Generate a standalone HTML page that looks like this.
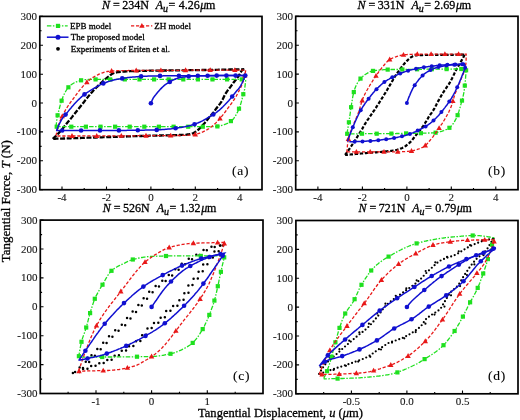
<!DOCTYPE html><html><head><meta charset="utf-8"><style>html,body{margin:0;padding:0;background:#fff;}svg{display:block}.tl{font-family:'Liberation Serif','Times New Roman',serif;font-size:11px;fill:#1a1a1a;stroke:#1a1a1a;stroke-width:0.12px} .t{font-family:'Liberation Serif','Times New Roman',serif;fill:#000} .tw{stroke:#000;stroke-width:0.3px}</style></head><body>
<svg width="520" height="420" viewBox="0 0 520 420">
<rect width="520" height="420" fill="#fff"/>
<path d="M52.7,138.9 L53.9,137.8 L55.1,136.7 L56.3,135.5 L57.5,134.3 L58.7,133.1 L59.9,131.8 L61.1,130.4 L62.3,129 L63.5,127.5 L64.7,126 L65.9,124.5 L67.1,123 L68.3,121.6 L69.6,120.1 L70.8,118.6 L72,117.1 L73.2,115.5 L74.4,114 L75.6,112.5 L76.8,111 L78,109.5 L79.2,108 L80.4,106.5 L81.6,105 L82.8,103.5 L84,102 L85.2,100.4 L86.4,98.9 L87.6,97.4 L88.8,95.9 L90,94.4 L91.2,93 L92.4,91.7 L93.6,90.3 L94.8,89.1 L96.1,87.8 L97.3,86.6 L98.5,85.4 L99.7,84.3 L100.9,83.1 L102.1,82 L103.3,80.9 L104.5,79.9 L105.7,78.9 L106.9,77.9 L108.1,76.9 L109.3,76 L110.5,75 L111.7,74.1 L112.9,73.4 L114.1,73 L115.3,72.6 L116.5,72.4 L117.7,72.1 L118.9,72 L120.1,71.8 L121.4,71.7 L122.6,71.6 L123.8,71.5 L125,71.5 L126.2,71.4 L127.4,71.3 L128.6,71.3 L129.8,71.2 L131,71.2 L132.2,71.1 L133.4,71.1 L134.6,71.1 L135.8,71 L137,71 L138.2,71 L139.4,70.9 L140.6,70.9 L141.8,70.9 L143,70.9 L144.2,70.8 L145.4,70.8 L146.6,70.8 L147.9,70.8 L149.1,70.7 L150.3,70.7 L151.5,70.7 L152.7,70.7 L153.9,70.6 L155.1,70.6 L156.3,70.6 L157.5,70.6 L158.7,70.6 L159.9,70.6 L161.1,70.5 L162.3,70.5 L163.5,70.5 L164.7,70.5 L165.9,70.5 L167.1,70.5 L168.3,70.5 L169.5,70.4 L170.7,70.4 L171.9,70.4 L173.2,70.4 L174.4,70.4 L175.6,70.4 L176.8,70.4 L178,70.3 L179.2,70.3 L180.4,70.3 L181.6,70.3 L182.8,70.3 L184,70.3 L185.2,70.3 L186.4,70.2 L187.6,70.2 L188.8,70.2 L190,70.2 L191.2,70.2 L192.4,70.2 L193.6,70.1 L194.8,70.1 L196,70.1 L197.2,70.1 L198.4,70.1 L199.7,70.1 L200.9,70 L202.1,70 L203.3,70 L204.5,70 L205.7,70 L206.9,69.9 L208.1,69.9 L209.3,69.9 L210.5,69.9 L211.7,69.9 L212.9,69.8 L214.1,69.8 L215.3,69.8 L216.5,69.8 L217.7,69.8 L218.9,69.7 L220.1,69.7 L221.3,69.7 L222.5,69.7 L223.7,69.7 L224.9,69.6 L226.2,69.6 L227.4,69.6 L228.6,69.6 L229.8,69.5 L231,69.5 L232.2,69.5 L233.4,69.5 L234.6,69.4 L235.8,69.4 L237,69.4 L238.2,69.4 L239.4,69.4 L240.6,69.3 L241.8,69.3 L243,69.3 L244.2,69.3" fill="none" stroke="#000" stroke-width="2.3" stroke-dasharray="5 1.6"/>
<path d="M244.2,69.3 L243,69.5 L241.8,70.5 L240.6,72.5 L239.4,74.7 L238.2,76.5 L237,78.1 L235.8,79.7 L234.6,81.2 L233.4,82.8 L232.2,84.5 L231,86.1 L229.8,87.8 L228.6,89.3 L227.4,90.9 L226.2,92.6 L224.9,94.7 L223.7,97.3 L222.5,99.8 L221.3,102 L220.1,103.6 L218.9,105.1 L217.7,106.6 L216.5,108.2 L215.3,109.9 L214.1,111.6 L212.9,113.1 L211.7,114.6 L210.5,115.9 L209.3,117.3 L208.1,118.7 L206.9,120.3 L205.7,121.8 L204.5,123.2 L203.3,124.5 L202.1,125.9 L200.9,127.2 L199.7,128.5 L198.4,129.6 L197.2,130.7 L196,131.5 L194.8,132.3 L193.6,133 L192.4,133.5 L191.2,133.9 L190,134.1 L188.8,134.3 L187.6,134.5 L186.4,134.7 L185.2,134.8 L184,134.8 L182.8,134.9 L181.6,134.9 L180.4,135 L179.2,135 L178,135.1 L176.8,135.1 L175.6,135.2 L174.4,135.2 L173.2,135.2 L171.9,135.3 L170.7,135.3 L169.5,135.3 L168.3,135.3 L167.1,135.4 L165.9,135.4 L164.7,135.4 L163.5,135.4 L162.3,135.4 L161.1,135.5 L159.9,135.5 L158.7,135.5 L157.5,135.5 L156.3,135.6 L155.1,135.6 L153.9,135.6 L152.7,135.6 L151.5,135.7 L150.3,135.7 L149.1,135.7 L147.9,135.8 L146.6,135.8 L145.4,135.8 L144.2,135.9 L143,135.9 L141.8,136 L140.6,136 L139.4,136 L138.2,136.1 L137,136.1 L135.8,136.2 L134.6,136.2 L133.4,136.2 L132.2,136.3 L131,136.3 L129.8,136.4 L128.6,136.4 L127.4,136.4 L126.2,136.5 L125,136.5 L123.8,136.6 L122.6,136.6 L121.4,136.6 L120.1,136.7 L118.9,136.7 L117.7,136.8 L116.5,136.8 L115.3,136.8 L114.1,136.9 L112.9,136.9 L111.7,137 L110.5,137 L109.3,137 L108.1,137.1 L106.9,137.1 L105.7,137.2 L104.5,137.2 L103.3,137.2 L102.1,137.3 L100.9,137.3 L99.7,137.4 L98.5,137.4 L97.3,137.4 L96.1,137.5 L94.8,137.5 L93.6,137.5 L92.4,137.6 L91.2,137.6 L90,137.7 L88.8,137.7 L87.6,137.7 L86.4,137.8 L85.2,137.8 L84,137.9 L82.8,137.9 L81.6,137.9 L80.4,138 L79.2,138 L78,138.1 L76.8,138.1 L75.6,138.1 L74.4,138.2 L73.2,138.2 L72,138.2 L70.8,138.3 L69.6,138.3 L68.3,138.4 L67.1,138.4 L65.9,138.4 L64.7,138.5 L63.5,138.5 L62.3,138.6 L61.1,138.6 L59.9,138.6 L58.7,138.7 L57.5,138.7 L56.3,138.7 L55.1,138.8 L53.9,138.8 L52.7,138.9" fill="none" stroke="#000" stroke-width="2.3" stroke-dasharray="5 1.6"/>
<path d="M56,126.7 L57.2,116.7 L58.4,112.2 L59.6,107.5 L60.8,103 L62,99.4 L63.2,96.3 L64.4,93.7 L65.6,91.5 L66.8,89.5 L68,87.8 L69.1,86.4 L70.3,85.4 L71.5,84.5 L72.7,83.7 L73.9,83 L75.1,82.4 L76.3,81.9 L77.5,81.5 L78.7,81.1 L79.9,80.7 L81.1,80.3 L82.3,80.1 L83.5,79.8 L84.7,79.7 L85.9,79.6 L87.1,79.6 L88.2,79.5 L89.4,79.5 L90.6,79.4 L91.8,79.4 L93,79.4 L94.2,79.4 L95.4,79.4 L96.6,79.4 L97.8,79.4 L99,79.4 L100.2,79.4 L101.4,79.4 L102.6,79.4 L103.8,79.4 L105,79.4 L106.1,79.4 L107.3,79.4 L108.5,79.4 L109.7,79.4 L110.9,79.4 L112.1,79.4 L113.3,79.4 L114.5,79.4 L115.7,79.4 L116.9,79.4 L118.1,79.4 L119.3,79.4 L120.5,79.4 L121.7,79.4 L122.9,79.4 L124,79.4 L125.2,79.4 L126.4,79.4 L127.6,79.4 L128.8,79.4 L130,79.4 L131.2,79.4 L132.4,79.4 L133.6,79.4 L134.8,79.4 L136,79.4 L137.2,79.4 L138.4,79.4 L139.6,79.4 L140.8,79.4 L141.9,79.4 L143.1,79.4 L144.3,79.4 L145.5,79.4 L146.7,79.4 L147.9,79.4 L149.1,79.4 L150.3,79.4 L151.5,79.4 L152.7,79.4 L153.9,79.4 L155.1,79.4 L156.3,79.4 L157.5,79.4 L158.7,79.4 L159.9,79.4 L161,79.4 L162.2,79.4 L163.4,79.4 L164.6,79.4 L165.8,79.4 L167,79.4 L168.2,79.4 L169.4,79.4 L170.6,79.4 L171.8,79.4 L173,79.4 L174.2,79.4 L175.4,79.4 L176.6,79.4 L177.8,79.4 L178.9,79.4 L180.1,79.4 L181.3,79.4 L182.5,79.4 L183.7,79.4 L184.9,79.4 L186.1,79.4 L187.3,79.4 L188.5,79.4 L189.7,79.4 L190.9,79.4 L192.1,79.4 L193.3,79.4 L194.5,79.4 L195.7,79.4 L196.8,79.4 L198,79.4 L199.2,79.4 L200.4,79.4 L201.6,79.4 L202.8,79.4 L204,79.4 L205.2,79.4 L206.4,79.4 L207.6,79.4 L208.8,79.4 L210,79.4 L211.2,79.4 L212.4,79.4 L213.6,79.4 L214.7,79.4 L215.9,79.4 L217.1,79.4 L218.3,79.4 L219.5,79.4 L220.7,79.4 L221.9,79.4 L223.1,79.4 L224.3,79.4 L225.5,79.4 L226.7,79.4 L227.9,79.4 L229.1,79.4 L230.3,79.4 L231.5,79.4 L232.7,79.4 L233.8,79.4 L235,79.4 L236.2,79.4 L237.4,79.4 L238.6,79.4 L239.8,79.4 L241,79.4 L242.2,79.4 L243.4,79.4 L244.6,79.4 L245.8,79.4 L244.6,89.4 L243.4,93.9 L242.2,98.6 L241,103.1 L239.8,106.7 L238.6,109.8 L237.4,112.4 L236.2,114.6 L235,116.6 L233.8,118.3 L232.7,119.7 L231.5,120.7 L230.3,121.6 L229.1,122.4 L227.9,123.1 L226.7,123.7 L225.5,124.2 L224.3,124.6 L223.1,125 L221.9,125.4 L220.7,125.8 L219.5,126 L218.3,126.3 L217.1,126.4 L215.9,126.5 L214.7,126.5 L213.6,126.6 L212.4,126.6 L211.2,126.7 L210,126.7 L208.8,126.7 L207.6,126.7 L206.4,126.7 L205.2,126.7 L204,126.7 L202.8,126.7 L201.6,126.7 L200.4,126.7 L199.2,126.7 L198,126.7 L196.8,126.7 L195.7,126.7 L194.5,126.7 L193.3,126.7 L192.1,126.7 L190.9,126.7 L189.7,126.7 L188.5,126.7 L187.3,126.7 L186.1,126.7 L184.9,126.7 L183.7,126.7 L182.5,126.7 L181.3,126.7 L180.1,126.7 L178.9,126.7 L177.8,126.7 L176.6,126.7 L175.4,126.7 L174.2,126.7 L173,126.7 L171.8,126.7 L170.6,126.7 L169.4,126.7 L168.2,126.7 L167,126.7 L165.8,126.7 L164.6,126.7 L163.4,126.7 L162.2,126.7 L161,126.7 L159.9,126.7 L158.7,126.7 L157.5,126.7 L156.3,126.7 L155.1,126.7 L153.9,126.7 L152.7,126.7 L151.5,126.7 L150.3,126.7 L149.1,126.7 L147.9,126.7 L146.7,126.7 L145.5,126.7 L144.3,126.7 L143.1,126.7 L141.9,126.7 L140.8,126.7 L139.6,126.7 L138.4,126.7 L137.2,126.7 L136,126.7 L134.8,126.7 L133.6,126.7 L132.4,126.7 L131.2,126.7 L130,126.7 L128.8,126.7 L127.6,126.7 L126.4,126.7 L125.2,126.7 L124,126.7 L122.9,126.7 L121.7,126.7 L120.5,126.7 L119.3,126.7 L118.1,126.7 L116.9,126.7 L115.7,126.7 L114.5,126.7 L113.3,126.7 L112.1,126.7 L110.9,126.7 L109.7,126.7 L108.5,126.7 L107.3,126.7 L106.1,126.7 L105,126.7 L103.8,126.7 L102.6,126.7 L101.4,126.7 L100.2,126.7 L99,126.7 L97.8,126.7 L96.6,126.7 L95.4,126.7 L94.2,126.7 L93,126.7 L91.8,126.7 L90.6,126.7 L89.4,126.7 L88.2,126.7 L87.1,126.7 L85.9,126.7 L84.7,126.7 L83.5,126.7 L82.3,126.7 L81.1,126.7 L79.9,126.7 L78.7,126.7 L77.5,126.7 L76.3,126.7 L75.1,126.7 L73.9,126.7 L72.7,126.7 L71.5,126.7 L70.3,126.7 L69.1,126.7 L68,126.7 L66.8,126.7 L65.6,126.7 L64.4,126.7 L63.2,126.7 L62,126.7 L60.8,126.7 L59.6,126.7 L58.4,126.7 L57.2,126.7 L56,126.7" fill="none" stroke="#1ee01e" stroke-width="1.3" stroke-dasharray="4.5 1.5 1.5 1.5"/>
<rect x="55.5" y="113.2" width="4.2" height="4.2" fill="#1ee01e"/>
<rect x="59.5" y="98.6" width="4.2" height="4.2" fill="#1ee01e"/>
<rect x="66.3" y="85.2" width="4.2" height="4.2" fill="#1ee01e"/>
<rect x="79" y="78.2" width="4.2" height="4.2" fill="#1ee01e"/>
<rect x="93.5" y="77.3" width="4.2" height="4.2" fill="#1ee01e"/>
<rect x="108.1" y="77.3" width="4.2" height="4.2" fill="#1ee01e"/>
<rect x="122.7" y="77.3" width="4.2" height="4.2" fill="#1ee01e"/>
<rect x="137.4" y="77.3" width="4.2" height="4.2" fill="#1ee01e"/>
<rect x="152" y="77.3" width="4.2" height="4.2" fill="#1ee01e"/>
<rect x="166.6" y="77.3" width="4.2" height="4.2" fill="#1ee01e"/>
<rect x="181.2" y="77.3" width="4.2" height="4.2" fill="#1ee01e"/>
<rect x="195.8" y="77.3" width="4.2" height="4.2" fill="#1ee01e"/>
<rect x="210.4" y="77.3" width="4.2" height="4.2" fill="#1ee01e"/>
<rect x="225" y="77.3" width="4.2" height="4.2" fill="#1ee01e"/>
<rect x="239.6" y="77.3" width="4.2" height="4.2" fill="#1ee01e"/>
<rect x="241.2" y="92.1" width="4.2" height="4.2" fill="#1ee01e"/>
<rect x="236.9" y="106.6" width="4.2" height="4.2" fill="#1ee01e"/>
<rect x="228.8" y="119" width="4.2" height="4.2" fill="#1ee01e"/>
<rect x="215.3" y="124.3" width="4.2" height="4.2" fill="#1ee01e"/>
<rect x="200.7" y="124.6" width="4.2" height="4.2" fill="#1ee01e"/>
<rect x="186.1" y="124.6" width="4.2" height="4.2" fill="#1ee01e"/>
<rect x="171.5" y="124.6" width="4.2" height="4.2" fill="#1ee01e"/>
<rect x="156.8" y="124.6" width="4.2" height="4.2" fill="#1ee01e"/>
<rect x="142.2" y="124.6" width="4.2" height="4.2" fill="#1ee01e"/>
<rect x="127.6" y="124.6" width="4.2" height="4.2" fill="#1ee01e"/>
<rect x="113" y="124.6" width="4.2" height="4.2" fill="#1ee01e"/>
<rect x="98.4" y="124.6" width="4.2" height="4.2" fill="#1ee01e"/>
<rect x="83.8" y="124.6" width="4.2" height="4.2" fill="#1ee01e"/>
<rect x="69.2" y="124.6" width="4.2" height="4.2" fill="#1ee01e"/>
<rect x="54.6" y="124.6" width="4.2" height="4.2" fill="#1ee01e"/>
<path d="M56,135.7 L57.2,130.2 L58.4,125.6 L59.6,122 L60.8,119.2 L62,116.8 L63.2,114.5 L64.4,112.1 L65.6,109.8 L66.8,107.8 L68,106 L69.1,104.3 L70.3,102.7 L71.5,101.1 L72.7,99.5 L73.9,97.9 L75.1,96.2 L76.3,94.6 L77.5,93 L78.7,91.4 L79.9,89.9 L81.1,88.5 L82.3,87.1 L83.5,85.7 L84.7,84.4 L85.9,83.2 L87.1,82.1 L88.2,81.1 L89.4,80.1 L90.6,79.1 L91.8,78.2 L93,77.4 L94.2,76.7 L95.4,76 L96.6,75.4 L97.8,74.8 L99,74.2 L100.2,73.7 L101.4,73.2 L102.6,72.8 L103.8,72.4 L105,72.1 L106.1,71.7 L107.3,71.5 L108.5,71.3 L109.7,71.2 L110.9,71.1 L112.1,71 L113.3,70.9 L114.5,70.8 L115.7,70.8 L116.9,70.7 L118.1,70.7 L119.3,70.7 L120.5,70.7 L121.7,70.6 L122.9,70.6 L124,70.6 L125.2,70.6 L126.4,70.6 L127.6,70.6 L128.8,70.5 L130,70.5 L131.2,70.5 L132.4,70.5 L133.6,70.5 L134.8,70.5 L136,70.5 L137.2,70.5 L138.4,70.5 L139.6,70.5 L140.8,70.5 L141.9,70.5 L143.1,70.4 L144.3,70.4 L145.5,70.4 L146.7,70.4 L147.9,70.4 L149.1,70.4 L150.3,70.4 L151.5,70.4 L152.7,70.4 L153.9,70.4 L155.1,70.4 L156.3,70.4 L157.5,70.4 L158.7,70.4 L159.9,70.4 L161,70.4 L162.2,70.4 L163.4,70.4 L164.6,70.3 L165.8,70.3 L167,70.3 L168.2,70.3 L169.4,70.3 L170.6,70.3 L171.8,70.3 L173,70.3 L174.2,70.3 L175.4,70.3 L176.6,70.3 L177.8,70.3 L178.9,70.3 L180.1,70.3 L181.3,70.3 L182.5,70.3 L183.7,70.3 L184.9,70.3 L186.1,70.3 L187.3,70.2 L188.5,70.2 L189.7,70.2 L190.9,70.2 L192.1,70.2 L193.3,70.2 L194.5,70.2 L195.7,70.2 L196.8,70.2 L198,70.2 L199.2,70.2 L200.4,70.2 L201.6,70.2 L202.8,70.2 L204,70.2 L205.2,70.2 L206.4,70.2 L207.6,70.2 L208.8,70.2 L210,70.2 L211.2,70.2 L212.4,70.2 L213.6,70.2 L214.7,70.2 L215.9,70.2 L217.1,70.2 L218.3,70.2 L219.5,70.2 L220.7,70.1 L221.9,70.1 L223.1,70.1 L224.3,70.1 L225.5,70.1 L226.7,70.1 L227.9,70.1 L229.1,70.1 L230.3,70.1 L231.5,70.1 L232.7,70.1 L233.8,70.1 L235,70.1 L236.2,70.1 L237.4,70.1 L238.6,70.1 L239.8,70.1 L241,70.1 L242.2,70.1 L243.4,70.1 L244.6,70.1 L245.8,70.1 L244.6,75.9 L243.4,80.5 L242.2,84.1 L241,86.9 L239.8,89.3 L238.6,91.6 L237.4,94 L236.2,96.3 L235,98.3 L233.8,100.1 L232.7,101.8 L231.5,103.4 L230.3,105 L229.1,106.6 L227.9,108.2 L226.7,109.9 L225.5,111.5 L224.3,113.1 L223.1,114.7 L221.9,116.2 L220.7,117.6 L219.5,119 L218.3,120.4 L217.1,121.7 L215.9,122.9 L214.7,124 L213.6,125 L212.4,126 L211.2,127 L210,127.9 L208.8,128.7 L207.6,129.4 L206.4,130.1 L205.2,130.7 L204,131.3 L202.8,131.9 L201.6,132.4 L200.4,132.9 L199.2,133.3 L198,133.7 L196.8,134 L195.7,134.4 L194.5,134.6 L193.3,134.8 L192.1,134.9 L190.9,135 L189.7,135.1 L188.5,135.2 L187.3,135.3 L186.1,135.3 L184.9,135.4 L183.7,135.4 L182.5,135.4 L181.3,135.4 L180.1,135.5 L178.9,135.5 L177.8,135.5 L176.6,135.5 L175.4,135.5 L174.2,135.5 L173,135.6 L171.8,135.6 L170.6,135.6 L169.4,135.6 L168.2,135.6 L167,135.6 L165.8,135.6 L164.6,135.6 L163.4,135.6 L162.2,135.6 L161,135.6 L159.9,135.6 L158.7,135.7 L157.5,135.7 L156.3,135.7 L155.1,135.7 L153.9,135.7 L152.7,135.7 L151.5,135.7 L150.3,135.7 L149.1,135.7 L147.9,135.7 L146.7,135.7 L145.5,135.7 L144.3,135.7 L143.1,135.7 L141.9,135.7 L140.8,135.7 L139.6,135.7 L138.4,135.7 L137.2,135.8 L136,135.8 L134.8,135.8 L133.6,135.8 L132.4,135.8 L131.2,135.8 L130,135.8 L128.8,135.8 L127.6,135.8 L126.4,135.8 L125.2,135.8 L124,135.8 L122.9,135.8 L121.7,135.8 L120.5,135.8 L119.3,135.8 L118.1,135.8 L116.9,135.8 L115.7,135.8 L114.5,135.9 L113.3,135.9 L112.1,135.9 L110.9,135.9 L109.7,135.9 L108.5,135.9 L107.3,135.9 L106.1,135.9 L105,135.9 L103.8,135.9 L102.6,135.9 L101.4,135.9 L100.2,135.9 L99,135.9 L97.8,135.9 L96.6,135.9 L95.4,135.9 L94.2,135.9 L93,135.9 L91.8,135.9 L90.6,135.9 L89.4,135.9 L88.2,135.9 L87.1,135.9 L85.9,135.9 L84.7,135.9 L83.5,135.9 L82.3,135.9 L81.1,136 L79.9,136 L78.7,136 L77.5,136 L76.3,136 L75.1,136 L73.9,136 L72.7,136 L71.5,136 L70.3,136 L69.1,136 L68,136 L66.8,136 L65.6,136 L64.4,136 L63.2,136 L62,136 L60.8,136 L59.6,136 L58.4,136 L57.2,136 L56,136" fill="none" stroke="#e81818" stroke-width="1.3" stroke-dasharray="3.2 1.8"/>
<path d="M244.7,72.6 L247.4,77.5 L242,77.5Z" fill="#e81818"/>
<path d="M220,115.6 L222.7,120.4 L217.3,120.4Z" fill="#e81818"/>
<path d="M195.3,131.5 L198,136.4 L192.6,136.4Z" fill="#e81818"/>
<path d="M170.7,132.7 L173.4,137.5 L168,137.5Z" fill="#e81818"/>
<path d="M146,132.8 L148.7,137.7 L143.3,137.7Z" fill="#e81818"/>
<path d="M121.3,132.9 L124,137.8 L118.6,137.8Z" fill="#e81818"/>
<path d="M96.7,133 L99.4,137.9 L94,137.9Z" fill="#e81818"/>
<path d="M72,133.1 L74.7,137.9 L69.3,137.9Z" fill="#e81818"/>
<path d="M62.2,113.4 L64.9,118.3 L59.5,118.3Z" fill="#e81818"/>
<path d="M86.9,79.3 L89.6,84.2 L84.2,84.2Z" fill="#e81818"/>
<path d="M111.6,68.1 L114.3,72.9 L108.9,72.9Z" fill="#e81818"/>
<path d="M136.2,67.6 L138.9,72.4 L133.5,72.4Z" fill="#e81818"/>
<path d="M160.9,67.4 L163.6,72.3 L158.2,72.3Z" fill="#e81818"/>
<path d="M185.6,67.3 L188.3,72.2 L182.9,72.2Z" fill="#e81818"/>
<path d="M210.2,67.3 L212.9,72.1 L207.5,72.1Z" fill="#e81818"/>
<path d="M234.9,67.2 L237.6,72.1 L232.2,72.1Z" fill="#e81818"/>
<path d="M56.5,130.8 L57.7,127.8 L58.8,125.1 L60,122.6 L61.2,120.3 L62.4,118.4 L63.6,116.9 L64.8,115.5 L66,114.1 L67.2,112.6 L68.4,111.1 L69.6,109.6 L70.8,108.2 L71.9,106.8 L73.1,105.4 L74.3,104.1 L75.5,102.8 L76.7,101.5 L77.9,100.3 L79.1,99.1 L80.3,98 L81.5,96.9 L82.7,95.8 L83.9,94.9 L85,94 L86.2,93.1 L87.4,92.3 L88.6,91.6 L89.8,90.8 L91,90.1 L92.2,89.4 L93.4,88.7 L94.6,88 L95.8,87.3 L96.9,86.6 L98.1,86 L99.3,85.3 L100.5,84.7 L101.7,84.1 L102.9,83.6 L104.1,83.1 L105.3,82.7 L106.5,82.2 L107.7,81.8 L108.9,81.4 L110,81.1 L111.2,80.7 L112.4,80.4 L113.6,80.1 L114.8,79.8 L116,79.6 L117.2,79.3 L118.4,79.1 L119.6,78.9 L120.8,78.7 L122,78.5 L123.1,78.3 L124.3,78.1 L125.5,77.9 L126.7,77.8 L127.9,77.6 L129.1,77.5 L130.3,77.3 L131.5,77.2 L132.7,77.1 L133.9,77 L135,76.9 L136.2,76.8 L137.4,76.7 L138.6,76.6 L139.8,76.5 L141,76.4 L142.2,76.4 L143.4,76.3 L144.6,76.3 L145.8,76.2 L147,76.2 L148.1,76.1 L149.3,76.1 L150.5,76.1 L151.7,76.1 L152.9,76 L154.1,76 L155.3,76 L156.5,76 L157.7,75.9 L158.9,75.9 L160.1,75.9 L161.2,75.9 L162.4,75.9 L163.6,75.8 L164.8,75.8 L166,75.8 L167.2,75.8 L168.4,75.8 L169.6,75.8 L170.8,75.8 L172,75.8 L173.1,75.8 L174.3,75.8 L175.5,75.7 L176.7,75.7 L177.9,75.7 L179.1,75.7 L180.3,75.7 L181.5,75.7 L182.7,75.7 L183.9,75.7 L185.1,75.7 L186.2,75.7 L187.4,75.7 L188.6,75.7 L189.8,75.7 L191,75.7 L192.2,75.7 L193.4,75.7 L194.6,75.7 L195.8,75.7 L197,75.7 L198.2,75.7 L199.3,75.7 L200.5,75.7 L201.7,75.7 L202.9,75.7 L204.1,75.7 L205.3,75.7 L206.5,75.7 L207.7,75.7 L208.9,75.6 L210.1,75.6 L211.3,75.6 L212.4,75.6 L213.6,75.6 L214.8,75.6 L216,75.6 L217.2,75.6 L218.4,75.6 L219.6,75.6 L220.8,75.6 L222,75.6 L223.2,75.6 L224.3,75.6 L225.5,75.6 L226.7,75.6 L227.9,75.6 L229.1,75.6 L230.3,75.6 L231.5,75.6 L232.7,75.6 L233.9,75.6 L235.1,75.6 L236.3,75.6 L237.4,75.6 L238.6,75.6 L239.8,75.6 L241,75.6 L242.2,75.6 L243.4,75.6 L244.6,75.6 L245.8,75.6 L244.1,78.3 L243,81 L241.8,83.5 L240.6,85.8 L239.4,87.7 L238.2,89.2 L237,90.6 L235.8,92 L234.6,93.5 L233.4,95 L232.2,96.5 L231,97.9 L229.9,99.3 L228.7,100.7 L227.5,102 L226.3,103.3 L225.1,104.6 L223.9,105.8 L222.7,107 L221.5,108.1 L220.3,109.2 L219.1,110.3 L217.9,111.2 L216.8,112.1 L215.6,113 L214.4,113.8 L213.2,114.5 L212,115.3 L210.8,116 L209.6,116.7 L208.4,117.4 L207.2,118.1 L206,118.8 L204.9,119.5 L203.7,120.1 L202.5,120.8 L201.3,121.4 L200.1,122 L198.9,122.5 L197.7,123 L196.5,123.4 L195.3,123.9 L194.1,124.3 L192.9,124.7 L191.8,125 L190.6,125.4 L189.4,125.7 L188.2,126 L187,126.3 L185.8,126.5 L184.6,126.8 L183.4,127 L182.2,127.2 L181,127.4 L179.8,127.6 L178.7,127.8 L177.5,128 L176.3,128.2 L175.1,128.3 L173.9,128.5 L172.7,128.6 L171.5,128.8 L170.3,128.9 L169.1,129 L167.9,129.1 L166.8,129.2 L165.6,129.3 L164.4,129.4 L163.2,129.5 L162,129.6 L160.8,129.7 L159.6,129.7 L158.4,129.8 L157.2,129.8 L156,129.9 L154.8,129.9 L153.7,130 L152.5,130 L151.3,130 L150.1,130 L148.9,130.1 L147.7,130.1 L146.5,130.1 L145.3,130.1 L144.1,130.2 L142.9,130.2 L141.7,130.2 L140.6,130.2 L139.4,130.2 L138.2,130.3 L137,130.3 L135.8,130.3 L134.6,130.3 L133.4,130.3 L132.2,130.3 L131,130.3 L129.8,130.3 L128.7,130.3 L127.5,130.3 L126.3,130.4 L125.1,130.4 L123.9,130.4 L122.7,130.4 L121.5,130.4 L120.3,130.4 L119.1,130.4 L117.9,130.4 L116.7,130.4 L115.6,130.4 L114.4,130.4 L113.2,130.4 L112,130.4 L110.8,130.4 L109.6,130.4 L108.4,130.4 L107.2,130.4 L106,130.4 L104.8,130.4 L103.6,130.4 L102.5,130.4 L101.3,130.4 L100.1,130.4 L98.9,130.4 L97.7,130.4 L96.5,130.4 L95.3,130.4 L94.1,130.4 L92.9,130.5 L91.7,130.5 L90.5,130.5 L89.4,130.5 L88.2,130.5 L87,130.5 L85.8,130.5 L84.6,130.5 L83.4,130.5 L82.2,130.5 L81,130.5 L79.8,130.5 L78.6,130.5 L77.5,130.5 L76.3,130.5 L75.1,130.5 L73.9,130.5 L72.7,130.5 L71.5,130.5 L70.3,130.5 L69.1,130.5 L67.9,130.5 L66.7,130.5 L65.5,130.5 L64.4,130.5 L63.2,130.5 L62,130.5 L60.8,130.5 L59.6,130.5 L58.4,130.5 L57.2,130.5 L56,130.5" fill="none" stroke="#1010d0" stroke-width="1.5"/>
<path d="M150.9,103.2 L152.1,100.3 L153.3,97.9 L154.5,96.2 L155.7,94.8 L156.9,93.3 L158.1,91.8 L159.3,90.4 L160.5,89.1 L161.7,87.9 L162.9,86.7 L164.1,85.6 L165.3,84.7 L166.5,83.9 L167.7,83.1 L168.9,82.4 L170.1,81.7 L171.3,81 L172.5,80.4 L173.7,79.8 L174.9,79.3 L176.1,78.8 L177.3,78.4 L178.5,78.1 L179.7,77.8 L180.9,77.5 L182.1,77.3 L183.3,77.1 L184.5,76.9 L185.7,76.7 L186.9,76.6 L188.1,76.4 L189.3,76.3 L190.5,76.2 L191.7,76.1 L192.9,76 L194.1,76 L195.3,75.9 L196.5,75.9 L197.7,75.9 L198.9,75.8 L200.1,75.8 L201.3,75.8 L202.5,75.8 L203.7,75.7 L204.9,75.7 L206.1,75.7 L207.3,75.7 L208.5,75.7 L209.7,75.7 L211,75.7 L212.2,75.7 L213.4,75.7 L214.6,75.7 L215.8,75.7 L217,75.7 L218.2,75.7 L219.4,75.6 L220.6,75.6 L221.8,75.6 L223,75.6 L224.2,75.6 L225.4,75.6 L226.6,75.6 L227.8,75.6 L229,75.6 L230.2,75.6 L231.4,75.6 L232.6,75.6 L233.8,75.6 L235,75.6 L236.2,75.6 L237.4,75.6 L238.6,75.6 L239.8,75.6 L241,75.6 L242.2,75.6 L243.4,75.6 L244.6,75.6 L245.8,75.6" fill="none" stroke="#1010d0" stroke-width="1.5"/>
<circle cx="65.6" cy="114.6" r="2.3" fill="#1010d0"/>
<circle cx="84.5" cy="94.4" r="2.3" fill="#1010d0"/>
<circle cx="103.3" cy="83.4" r="2.3" fill="#1010d0"/>
<circle cx="122.2" cy="78.4" r="2.3" fill="#1010d0"/>
<circle cx="141.1" cy="76.4" r="2.3" fill="#1010d0"/>
<circle cx="160" cy="75.9" r="2.3" fill="#1010d0"/>
<circle cx="178.9" cy="75.7" r="2.3" fill="#1010d0"/>
<circle cx="197.8" cy="75.7" r="2.3" fill="#1010d0"/>
<circle cx="216.7" cy="75.6" r="2.3" fill="#1010d0"/>
<circle cx="235.6" cy="75.6" r="2.3" fill="#1010d0"/>
<circle cx="232.2" cy="96.5" r="2.3" fill="#1010d0"/>
<circle cx="213.3" cy="114.5" r="2.3" fill="#1010d0"/>
<circle cx="194.5" cy="124.2" r="2.3" fill="#1010d0"/>
<circle cx="175.6" cy="128.3" r="2.3" fill="#1010d0"/>
<circle cx="156.7" cy="129.9" r="2.3" fill="#1010d0"/>
<circle cx="137.8" cy="130.3" r="2.3" fill="#1010d0"/>
<circle cx="118.9" cy="130.4" r="2.3" fill="#1010d0"/>
<circle cx="100" cy="130.4" r="2.3" fill="#1010d0"/>
<circle cx="81.1" cy="130.5" r="2.3" fill="#1010d0"/>
<circle cx="62.2" cy="130.5" r="2.3" fill="#1010d0"/>
<circle cx="150.9" cy="103.2" r="2.3" fill="#1010d0"/>
<circle cx="169.8" cy="81.9" r="2.3" fill="#1010d0"/>
<circle cx="188.7" cy="76.4" r="2.3" fill="#1010d0"/>
<circle cx="207.6" cy="75.7" r="2.3" fill="#1010d0"/>
<circle cx="226.4" cy="75.6" r="2.3" fill="#1010d0"/>
<circle cx="245.3" cy="75.6" r="2.3" fill="#1010d0"/>
<path d="M345.1,155 L345.8,154 L346.6,152.9 L347.3,151.9 L348.1,150.8 L348.8,149.7 L349.6,148.7 L350.3,147.6 L351.1,146.5 L351.8,145.3 L352.6,144.2 L353.3,143.1 L354.1,141.9 L354.8,140.8 L355.6,139.6 L356.3,138.4 L357.1,137.2 L357.8,136 L358.6,134.8 L359.3,133.6 L360.1,132.4 L360.8,131.1 L361.6,129.9 L362.4,128.6 L363.1,127.2 L363.9,125.9 L364.6,124.6 L365.4,123.4 L366.1,122.2 L366.9,121 L367.6,119.9 L368.4,118.8 L369.1,117.7 L369.9,116.6 L370.6,115.6 L371.4,114.5 L372.1,113.4 L372.9,112.3 L373.6,111.2 L374.4,110.1 L375.1,108.9 L375.9,107.8 L376.6,106.6 L377.4,105.5 L378.1,104.3 L378.9,103.1 L379.7,101.9 L380.4,100.7 L381.2,99.5 L381.9,98.3 L382.7,97.1 L383.4,95.9 L384.2,94.7 L384.9,93.5 L385.7,92.3 L386.4,91.1 L387.2,89.8 L387.9,88.6 L388.7,87.3 L389.4,86 L390.2,84.7 L390.9,83.4 L391.7,82.1 L392.4,80.8 L393.2,79.5 L393.9,78.2 L394.7,77 L395.4,75.8 L396.2,74.7 L397,73.5 L397.7,72.4 L398.5,71.3 L399.2,70.2 L400,69.2 L400.7,68.2 L401.5,67.2 L402.2,66.2 L403,65.3 L403.7,64.4 L404.5,63.5 L405.2,62.7 L406,61.9 L406.7,61.1 L407.5,60.4 L408.2,59.6 L409,58.9 L409.7,58.2 L410.5,57.6 L411.2,57.1 L412,56.7 L412.7,56.3 L413.5,55.9 L414.3,55.6 L415,55.4 L415.8,55.3 L416.5,55.3 L417.3,55.2 L418,55.2 L418.8,55.2 L419.5,55.1 L420.3,55.1 L421,55.1 L421.8,55.1 L422.5,55.1 L423.3,55 L424,55 L424.8,55 L425.5,55 L426.3,55 L427,55 L427.8,55 L428.5,55 L429.3,55 L430,55 L430.8,54.9 L431.6,54.9 L432.3,54.9 L433.1,54.9 L433.8,54.9 L434.6,54.9 L435.3,54.9 L436.1,54.9 L436.8,54.9 L437.6,54.9 L438.3,54.9 L439.1,54.9 L439.8,54.9 L440.6,54.8 L441.3,54.8 L442.1,54.8 L442.8,54.8 L443.6,54.8 L444.3,54.8 L445.1,54.8 L445.8,54.8 L446.6,54.8 L447.3,54.8 L448.1,54.8 L448.9,54.8 L449.6,54.8 L450.4,54.8 L451.1,54.8 L451.9,54.8 L452.6,54.8 L453.4,54.8 L454.1,54.8 L454.9,54.8 L455.6,54.8 L456.4,54.8 L457.1,54.7 L457.9,54.7 L458.6,54.7 L459.4,54.7 L460.1,54.7 L460.9,54.7 L461.6,54.7 L462.4,54.7 L463.1,54.7 L463.9,54.7 L464.6,54.7" fill="none" stroke="#000" stroke-width="2.2" stroke-dasharray="3.4 1.7"/>
<path d="M464.6,54.7 L463.9,56.2 L463.1,57.7 L462.4,59.1 L461.6,60.4 L460.9,61.7 L460.1,63 L459.4,64.3 L458.6,65.6 L457.9,66.9 L457.1,68.2 L456.4,69.6 L455.6,71 L454.9,72.5 L454.1,74.1 L453.4,75.7 L452.6,77.2 L451.9,78.8 L451.1,80.2 L450.4,81.6 L449.6,82.9 L448.9,84.2 L448.1,85.3 L447.3,86.4 L446.6,87.5 L445.8,88.6 L445.1,89.7 L444.3,90.8 L443.6,91.9 L442.8,93.1 L442.1,94.3 L441.3,95.6 L440.6,96.9 L439.8,98.2 L439.1,99.6 L438.3,100.9 L437.6,102.3 L436.8,103.8 L436.1,105.3 L435.3,106.7 L434.6,108.1 L433.8,109.4 L433.1,110.6 L432.3,111.7 L431.6,112.8 L430.8,113.9 L430,115 L429.3,116.1 L428.5,117.3 L427.8,118.6 L427,119.8 L426.3,121.1 L425.5,122.3 L424.8,123.5 L424,124.7 L423.3,125.8 L422.5,126.9 L421.8,127.9 L421,128.9 L420.3,129.8 L419.5,130.8 L418.8,131.7 L418,132.6 L417.3,133.5 L416.5,134.4 L415.8,135.4 L415,136.3 L414.3,137.3 L413.5,138.3 L412.7,139.3 L412,140.3 L411.2,141.2 L410.5,141.9 L409.7,142.6 L409,143.3 L408.2,144 L407.5,144.6 L406.7,145.2 L406,145.8 L405.2,146.3 L404.5,146.8 L403.7,147.2 L403,147.6 L402.2,148 L401.5,148.3 L400.7,148.6 L400,148.9 L399.2,149.2 L398.5,149.4 L397.7,149.6 L397,149.8 L396.2,150 L395.4,150.2 L394.7,150.3 L393.9,150.4 L393.2,150.5 L392.4,150.7 L391.7,150.8 L390.9,150.9 L390.2,151 L389.4,151 L388.7,151.1 L387.9,151.2 L387.2,151.3 L386.4,151.4 L385.7,151.4 L384.9,151.5 L384.2,151.6 L383.4,151.7 L382.7,151.7 L381.9,151.8 L381.2,151.9 L380.4,152 L379.7,152 L378.9,152.1 L378.1,152.1 L377.4,152.2 L376.6,152.3 L375.9,152.3 L375.1,152.4 L374.4,152.4 L373.6,152.5 L372.9,152.5 L372.1,152.6 L371.4,152.7 L370.6,152.7 L369.9,152.8 L369.1,152.8 L368.4,152.9 L367.6,152.9 L366.9,153 L366.1,153.1 L365.4,153.1 L364.6,153.2 L363.9,153.3 L363.1,153.3 L362.4,153.4 L361.6,153.5 L360.8,153.5 L360.1,153.6 L359.3,153.7 L358.6,153.7 L357.8,153.8 L357.1,153.9 L356.3,153.9 L355.6,154 L354.8,154.1 L354.1,154.1 L353.3,154.2 L352.6,154.3 L351.8,154.4 L351.1,154.4 L350.3,154.5 L349.6,154.6 L348.8,154.6 L348.1,154.7 L347.3,154.8 L346.6,154.9 L345.8,154.9 L345.1,155" fill="none" stroke="#000" stroke-width="2.2" stroke-dasharray="3.4 1.7"/>
<path d="M346.8,133.8 L347.6,130 L348.3,125.8 L349.1,121.3 L349.8,116.2 L350.6,110.6 L351.3,105.5 L352.1,100.9 L352.8,96.6 L353.6,92.9 L354.3,90.3 L355.1,88.1 L355.8,86.3 L356.6,84.7 L357.3,83.2 L358.1,82 L358.8,80.8 L359.6,79.8 L360.3,78.9 L361.1,78 L361.8,77.3 L362.6,76.6 L363.3,76 L364.1,75.4 L364.8,74.8 L365.6,74.3 L366.3,73.8 L367.1,73.4 L367.9,72.9 L368.6,72.5 L369.4,72.1 L370.1,71.7 L370.9,71.4 L371.6,71.2 L372.4,71 L373.1,70.8 L373.9,70.7 L374.6,70.6 L375.4,70.5 L376.1,70.4 L376.9,70.3 L377.6,70.2 L378.4,70.1 L379.1,70.1 L379.9,70 L380.6,69.9 L381.4,69.9 L382.1,69.8 L382.9,69.8 L383.6,69.7 L384.4,69.7 L385.1,69.6 L385.9,69.6 L386.6,69.6 L387.4,69.6 L388.1,69.6 L388.9,69.6 L389.6,69.6 L390.4,69.6 L391.1,69.5 L391.9,69.5 L392.6,69.5 L393.4,69.5 L394.1,69.5 L394.9,69.5 L395.6,69.5 L396.4,69.5 L397.1,69.5 L397.9,69.5 L398.6,69.5 L399.4,69.5 L400.1,69.5 L400.9,69.5 L401.6,69.5 L402.4,69.5 L403.1,69.5 L403.9,69.5 L404.6,69.5 L405.4,69.4 L406.1,69.4 L406.9,69.4 L407.6,69.4 L408.4,69.4 L409.1,69.4 L409.9,69.4 L410.6,69.4 L411.4,69.4 L412.1,69.4 L412.9,69.4 L413.6,69.3 L414.4,69.3 L415.2,69.3 L415.9,69.3 L416.7,69.3 L417.4,69.3 L418.2,69.3 L418.9,69.3 L419.7,69.3 L420.4,69.3 L421.2,69.3 L421.9,69.3 L422.7,69.2 L423.4,69.2 L424.2,69.2 L424.9,69.2 L425.7,69.2 L426.4,69.2 L427.2,69.2 L427.9,69.2 L428.7,69.2 L429.4,69.2 L430.2,69.2 L430.9,69.2 L431.7,69.2 L432.4,69.2 L433.2,69.2 L433.9,69.2 L434.7,69.2 L435.4,69.1 L436.2,69.1 L436.9,69.1 L437.7,69.1 L438.4,69.1 L439.2,69.1 L439.9,69.1 L440.7,69.1 L441.4,69.1 L442.2,69.1 L442.9,69.1 L443.7,69.1 L444.4,69.1 L445.2,69.1 L445.9,69.1 L446.7,69.1 L447.4,69.1 L448.2,69.1 L448.9,69.1 L449.7,69.1 L450.4,69.1 L451.2,69.1 L451.9,69.1 L452.7,69.1 L453.4,69 L454.2,69 L454.9,69 L455.7,69 L456.4,69 L457.2,69 L457.9,69 L458.7,69 L459.4,69 L460.2,69 L460.9,69 L461.7,69 L462.5,69 L463.2,69 L464,69 L464.7,69 L465.5,69 L466.2,69 L465.5,79 L464.7,87 L464,92 L463.2,95.8 L462.5,98.9 L461.7,101.6 L460.9,104.3 L460.2,107 L459.4,109.6 L458.7,112 L457.9,114.2 L457.2,116.2 L456.4,117.9 L455.7,119.4 L454.9,120.9 L454.2,122.2 L453.4,123.3 L452.7,124.3 L451.9,125.2 L451.2,126.1 L450.4,126.9 L449.7,127.5 L448.9,128.1 L448.2,128.6 L447.4,129 L446.7,129.4 L445.9,129.7 L445.2,130 L444.4,130.3 L443.7,130.6 L442.9,130.8 L442.2,131.1 L441.4,131.3 L440.7,131.5 L439.9,131.7 L439.2,131.9 L438.4,132.1 L437.7,132.3 L436.9,132.5 L436.2,132.6 L435.4,132.7 L434.7,132.8 L433.9,132.8 L433.2,132.9 L432.4,132.9 L431.7,132.9 L430.9,133 L430.2,133 L429.4,133 L428.7,133 L427.9,133.1 L427.2,133.1 L426.4,133.1 L425.7,133.1 L424.9,133.1 L424.2,133.1 L423.4,133.2 L422.7,133.2 L421.9,133.2 L421.2,133.2 L420.4,133.2 L419.7,133.2 L418.9,133.2 L418.2,133.3 L417.4,133.3 L416.7,133.3 L415.9,133.3 L415.2,133.3 L414.4,133.3 L413.6,133.3 L412.9,133.3 L412.1,133.4 L411.4,133.4 L410.6,133.4 L409.9,133.4 L409.1,133.4 L408.4,133.4 L407.6,133.4 L406.9,133.4 L406.1,133.4 L405.4,133.4 L404.6,133.5 L403.9,133.5 L403.1,133.5 L402.4,133.5 L401.6,133.5 L400.9,133.5 L400.1,133.5 L399.4,133.5 L398.6,133.5 L397.9,133.5 L397.1,133.5 L396.4,133.5 L395.6,133.6 L394.9,133.6 L394.1,133.6 L393.4,133.6 L392.6,133.6 L391.9,133.6 L391.1,133.6 L390.4,133.6 L389.6,133.6 L388.9,133.6 L388.1,133.6 L387.4,133.6 L386.6,133.6 L385.9,133.6 L385.1,133.6 L384.4,133.6 L383.6,133.6 L382.9,133.6 L382.1,133.6 L381.4,133.7 L380.6,133.7 L379.9,133.7 L379.1,133.7 L378.4,133.7 L377.6,133.7 L376.9,133.7 L376.1,133.7 L375.4,133.7 L374.6,133.7 L373.9,133.7 L373.1,133.7 L372.4,133.7 L371.6,133.7 L370.9,133.7 L370.1,133.7 L369.4,133.7 L368.6,133.7 L367.9,133.7 L367.1,133.7 L366.3,133.7 L365.6,133.7 L364.8,133.7 L364.1,133.7 L363.3,133.7 L362.6,133.7 L361.8,133.7 L361.1,133.8 L360.3,133.8 L359.6,133.8 L358.8,133.8 L358.1,133.8 L357.3,133.8 L356.6,133.8 L355.8,133.8 L355.1,133.8 L354.3,133.8 L353.6,133.8 L352.8,133.8 L352.1,133.8 L351.3,133.8 L350.6,133.8 L349.8,133.8 L349.1,133.8 L348.3,133.8 L347.6,133.8 L346.8,133.8" fill="none" stroke="#1ee01e" stroke-width="1.3" stroke-dasharray="4.5 1.5 1.5 1.5"/>
<rect x="346.8" y="120.2" width="4.2" height="4.2" fill="#1ee01e"/>
<rect x="349" y="105.1" width="4.2" height="4.2" fill="#1ee01e"/>
<rect x="351.7" y="90" width="4.2" height="4.2" fill="#1ee01e"/>
<rect x="358.4" y="76.5" width="4.2" height="4.2" fill="#1ee01e"/>
<rect x="370.9" y="68.8" width="4.2" height="4.2" fill="#1ee01e"/>
<rect x="385.6" y="67.5" width="4.2" height="4.2" fill="#1ee01e"/>
<rect x="400.3" y="67.4" width="4.2" height="4.2" fill="#1ee01e"/>
<rect x="415" y="67.2" width="4.2" height="4.2" fill="#1ee01e"/>
<rect x="429.7" y="67.1" width="4.2" height="4.2" fill="#1ee01e"/>
<rect x="444.5" y="67" width="4.2" height="4.2" fill="#1ee01e"/>
<rect x="459.2" y="66.9" width="4.2" height="4.2" fill="#1ee01e"/>
<rect x="464" y="68.2" width="4.2" height="4.2" fill="#1ee01e"/>
<rect x="462.7" y="83.5" width="4.2" height="4.2" fill="#1ee01e"/>
<rect x="459.9" y="98.5" width="4.2" height="4.2" fill="#1ee01e"/>
<rect x="455.5" y="113.1" width="4.2" height="4.2" fill="#1ee01e"/>
<rect x="447.3" y="125.7" width="4.2" height="4.2" fill="#1ee01e"/>
<rect x="433.5" y="130.6" width="4.2" height="4.2" fill="#1ee01e"/>
<rect x="418.8" y="131.1" width="4.2" height="4.2" fill="#1ee01e"/>
<rect x="404" y="131.3" width="4.2" height="4.2" fill="#1ee01e"/>
<rect x="389.3" y="131.5" width="4.2" height="4.2" fill="#1ee01e"/>
<rect x="374.6" y="131.6" width="4.2" height="4.2" fill="#1ee01e"/>
<rect x="359.9" y="131.6" width="4.2" height="4.2" fill="#1ee01e"/>
<rect x="345.1" y="131.7" width="4.2" height="4.2" fill="#1ee01e"/>
<path d="M346.8,152.4 L347.6,143.9 L348.3,139.2 L349.1,136.1 L349.8,133.7 L350.6,131.7 L351.3,129.9 L352.1,128.2 L352.8,126.4 L353.6,124.4 L354.3,122.5 L355.1,120.8 L355.8,119 L356.6,117.3 L357.3,115.4 L358.1,113.5 L358.8,111.5 L359.6,109.2 L360.3,106.6 L361.1,103.9 L361.8,101.4 L362.6,99.3 L363.3,97.5 L364.1,95.8 L364.8,94.2 L365.6,92.7 L366.3,91.3 L367.1,90 L367.9,88.6 L368.6,87.3 L369.4,86 L370.1,84.8 L370.9,83.6 L371.6,82.4 L372.4,81.3 L373.1,80.1 L373.9,79 L374.6,77.8 L375.4,76.7 L376.1,75.6 L376.9,74.6 L377.6,73.5 L378.4,72.4 L379.1,71.4 L379.9,70.4 L380.6,69.4 L381.4,68.4 L382.1,67.5 L382.9,66.6 L383.6,65.7 L384.4,64.8 L385.1,63.9 L385.9,63 L386.6,62.2 L387.4,61.4 L388.1,60.7 L388.9,60.1 L389.6,59.6 L390.4,59.1 L391.1,58.7 L391.9,58.4 L392.6,58 L393.4,57.7 L394.1,57.4 L394.9,57.1 L395.6,56.9 L396.4,56.6 L397.1,56.4 L397.9,56.2 L398.6,55.9 L399.4,55.7 L400.1,55.5 L400.9,55.3 L401.6,55.2 L402.4,55 L403.1,54.9 L403.9,54.8 L404.6,54.8 L405.4,54.7 L406.1,54.6 L406.9,54.6 L407.6,54.5 L408.4,54.5 L409.1,54.4 L409.9,54.4 L410.6,54.3 L411.4,54.3 L412.1,54.3 L412.9,54.2 L413.6,54.2 L414.4,54.2 L415.2,54.2 L415.9,54.2 L416.7,54.2 L417.4,54.2 L418.2,54.2 L418.9,54.2 L419.7,54.2 L420.4,54.2 L421.2,54.2 L421.9,54.2 L422.7,54.2 L423.4,54.2 L424.2,54.2 L424.9,54.2 L425.7,54.2 L426.4,54.2 L427.2,54.2 L427.9,54.2 L428.7,54.2 L429.4,54.2 L430.2,54.2 L430.9,54.2 L431.7,54.2 L432.4,54.2 L433.2,54.2 L433.9,54.2 L434.7,54.2 L435.4,54.2 L436.2,54.2 L436.9,54.2 L437.7,54.2 L438.4,54.2 L439.2,54.2 L439.9,54.2 L440.7,54.2 L441.4,54.2 L442.2,54.2 L442.9,54.2 L443.7,54.2 L444.4,54.2 L445.2,54.2 L445.9,54.2 L446.7,54.2 L447.4,54.2 L448.2,54.2 L448.9,54.2 L449.7,54.2 L450.4,54.2 L451.2,54.2 L451.9,54.2 L452.7,54.2 L453.4,54.2 L454.2,54.2 L454.9,54.2 L455.7,54.2 L456.4,54.2 L457.2,54.2 L457.9,54.2 L458.7,54.2 L459.4,54.2 L460.2,54.2 L460.9,54.2 L461.7,54.2 L462.5,54.2 L463.2,54.2 L464,54.2 L464.7,54.2 L465.5,54.2 L466.2,54.2 L466.1,62.1 L465.4,66.8 L464.6,69.9 L463.9,72.3 L463.1,74.3 L462.4,76.1 L461.6,77.8 L460.9,79.6 L460.1,81.6 L459.4,83.5 L458.6,85.2 L457.9,87 L457.1,88.7 L456.4,90.6 L455.6,92.5 L454.9,94.5 L454.1,96.8 L453.4,99.4 L452.6,102.1 L451.9,104.6 L451.1,106.7 L450.4,108.5 L449.6,110.2 L448.9,111.8 L448.1,113.3 L447.4,114.7 L446.6,116 L445.8,117.4 L445.1,118.7 L444.3,120 L443.6,121.2 L442.8,122.4 L442.1,123.6 L441.3,124.7 L440.6,125.9 L439.8,127 L439.1,128.2 L438.3,129.3 L437.6,130.4 L436.8,131.4 L436.1,132.5 L435.3,133.6 L434.6,134.6 L433.8,135.6 L433.1,136.6 L432.3,137.6 L431.6,138.5 L430.8,139.4 L430.1,140.3 L429.3,141.2 L428.6,142.1 L427.8,143 L427.1,143.8 L426.3,144.6 L425.6,145.3 L424.8,145.9 L424.1,146.4 L423.3,146.9 L422.6,147.3 L421.8,147.6 L421.1,148 L420.3,148.3 L419.6,148.6 L418.8,148.9 L418.1,149.1 L417.3,149.4 L416.6,149.6 L415.8,149.8 L415.1,150.1 L414.3,150.3 L413.6,150.5 L412.8,150.7 L412.1,150.8 L411.3,151 L410.6,151.1 L409.8,151.2 L409.1,151.2 L408.3,151.3 L407.6,151.4 L406.8,151.4 L406.1,151.5 L405.3,151.5 L404.6,151.6 L403.8,151.6 L403.1,151.7 L402.3,151.7 L401.6,151.7 L400.8,151.8 L400.1,151.8 L399.3,151.8 L398.5,151.8 L397.8,151.8 L397,151.8 L396.3,151.8 L395.5,151.8 L394.8,151.8 L394,151.8 L393.3,151.8 L392.5,151.8 L391.8,151.8 L391,151.8 L390.3,151.8 L389.5,151.8 L388.8,151.8 L388,151.8 L387.3,151.8 L386.5,151.8 L385.8,151.8 L385,151.8 L384.3,151.8 L383.5,151.8 L382.8,151.8 L382,151.8 L381.3,151.8 L380.5,151.8 L379.8,151.8 L379,151.8 L378.3,151.8 L377.5,151.8 L376.8,151.8 L376,151.8 L375.3,151.8 L374.5,151.8 L373.8,151.8 L373,151.8 L372.3,151.8 L371.5,151.8 L370.8,151.8 L370,151.8 L369.3,151.8 L368.5,151.8 L367.8,151.8 L367,151.8 L366.3,151.8 L365.5,151.8 L364.8,151.8 L364,151.8 L363.3,151.8 L362.5,151.8 L361.8,151.8 L361,151.8 L360.3,151.8 L359.5,151.8 L358.8,151.8 L358,151.8 L357.3,151.8 L356.5,151.8 L355.8,151.8 L355,151.8 L354.3,151.8 L353.5,151.8 L352.8,151.8 L352,151.8 L351.2,151.8 L350.5,151.8 L349.7,151.8 L349,151.8 L348.2,151.8 L347.5,151.8" fill="none" stroke="#e81818" stroke-width="1.3" stroke-dasharray="3.2 1.8"/>
<path d="M452.9,98.2 L455.6,103.1 L450.2,103.1Z" fill="#e81818"/>
<path d="M439.1,125.3 L441.8,130.1 L436.4,130.1Z" fill="#e81818"/>
<path d="M425.3,142.6 L428,147.5 L422.6,147.5Z" fill="#e81818"/>
<path d="M411.5,148 L414.2,152.9 L408.8,152.9Z" fill="#e81818"/>
<path d="M397.7,148.9 L400.4,153.8 L395,153.8Z" fill="#e81818"/>
<path d="M384,148.9 L386.7,153.8 L381.3,153.8Z" fill="#e81818"/>
<path d="M370.2,148.9 L372.9,153.8 L367.5,153.8Z" fill="#e81818"/>
<path d="M356.4,148.9 L359.1,153.8 L353.7,153.8Z" fill="#e81818"/>
<path d="M348.4,136.1 L351.1,140.9 L345.7,140.9Z" fill="#e81818"/>
<path d="M362.2,97.5 L364.9,102.4 L359.5,102.4Z" fill="#e81818"/>
<path d="M376,72.9 L378.7,77.8 L373.3,77.8Z" fill="#e81818"/>
<path d="M389.7,56.6 L392.4,61.5 L387,61.5Z" fill="#e81818"/>
<path d="M403.5,52 L406.2,56.8 L400.8,56.8Z" fill="#e81818"/>
<path d="M417.3,51.2 L420,56.1 L414.6,56.1Z" fill="#e81818"/>
<path d="M431.1,51.2 L433.8,56.1 L428.4,56.1Z" fill="#e81818"/>
<path d="M444.9,51.2 L447.6,56.1 L442.2,56.1Z" fill="#e81818"/>
<path d="M458.6,51.2 L461.3,56.1 L455.9,56.1Z" fill="#e81818"/>
<path d="M347.5,141.4 L348.2,139.3 L349,137.3 L349.7,135.3 L350.4,133.3 L351.2,131.4 L351.9,129.5 L352.6,127.7 L353.4,125.9 L354.1,124.2 L354.8,122.5 L355.6,120.8 L356.3,119.1 L357.1,117.5 L357.8,116 L358.5,114.5 L359.3,113 L360,111.6 L360.7,110.3 L361.5,109 L362.2,107.8 L362.9,106.7 L363.7,105.5 L364.4,104.5 L365.1,103.4 L365.9,102.4 L366.6,101.3 L367.4,100.3 L368.1,99.4 L368.8,98.4 L369.6,97.4 L370.3,96.5 L371,95.5 L371.8,94.6 L372.5,93.7 L373.2,92.8 L374,92 L374.7,91.1 L375.4,90.3 L376.2,89.5 L376.9,88.8 L377.6,88 L378.4,87.3 L379.1,86.6 L379.9,85.9 L380.6,85.2 L381.3,84.5 L382.1,83.9 L382.8,83.3 L383.5,82.7 L384.3,82.2 L385,81.6 L385.7,81.1 L386.5,80.6 L387.2,80.2 L387.9,79.7 L388.7,79.3 L389.4,78.9 L390.1,78.4 L390.9,78 L391.6,77.6 L392.4,77.2 L393.1,76.9 L393.8,76.5 L394.6,76.1 L395.3,75.7 L396,75.4 L396.8,75 L397.5,74.7 L398.2,74.3 L399,74 L399.7,73.7 L400.4,73.4 L401.2,73.1 L401.9,72.8 L402.7,72.5 L403.4,72.2 L404.1,71.9 L404.9,71.7 L405.6,71.4 L406.3,71.2 L407.1,71 L407.8,70.7 L408.5,70.5 L409.3,70.3 L410,70.1 L410.7,70 L411.5,69.8 L412.2,69.6 L412.9,69.4 L413.7,69.3 L414.4,69.1 L415.2,68.9 L415.9,68.8 L416.6,68.6 L417.4,68.5 L418.1,68.3 L418.8,68.1 L419.6,68 L420.3,67.8 L421,67.7 L421.8,67.5 L422.5,67.4 L423.2,67.3 L424,67.2 L424.7,67.1 L425.4,67 L426.2,66.9 L426.9,66.8 L427.7,66.7 L428.4,66.6 L429.1,66.5 L429.9,66.5 L430.6,66.4 L431.3,66.3 L432.1,66.2 L432.8,66.1 L433.5,66 L434.3,65.9 L435,65.8 L435.7,65.7 L436.5,65.6 L437.2,65.5 L438,65.4 L438.7,65.3 L439.4,65.2 L440.2,65.2 L440.9,65.2 L441.6,65.1 L442.4,65.1 L443.1,65 L443.8,65 L444.6,65 L445.3,64.9 L446,64.9 L446.8,64.9 L447.5,64.8 L448.2,64.8 L449,64.7 L449.7,64.7 L450.5,64.7 L451.2,64.6 L451.9,64.6 L452.7,64.6 L453.4,64.5 L454.1,64.5 L454.9,64.5 L455.6,64.4 L456.3,64.4 L457.1,64.4 L457.8,64.4 L458.5,64.4 L459.3,64.3 L460,64.3 L460.7,64.3 L461.5,64.3 L462.2,64.3 L463,64.3 L463.7,64.3 L464.4,64.3 L465.5,66.7 L464.7,68.7 L464,70.7 L463.3,72.7 L462.5,74.6 L461.8,76.5 L461.1,78.3 L460.3,80.1 L459.6,81.8 L458.9,83.5 L458.1,85.2 L457.4,86.9 L456.6,88.5 L455.9,90 L455.2,91.5 L454.4,93 L453.7,94.4 L453,95.7 L452.2,97 L451.5,98.2 L450.8,99.3 L450,100.5 L449.3,101.5 L448.6,102.6 L447.8,103.6 L447.1,104.7 L446.3,105.7 L445.6,106.6 L444.9,107.6 L444.1,108.6 L443.4,109.5 L442.7,110.5 L441.9,111.4 L441.2,112.3 L440.5,113.2 L439.7,114 L439,114.9 L438.3,115.7 L437.5,116.5 L436.8,117.2 L436.1,118 L435.3,118.7 L434.6,119.4 L433.8,120.1 L433.1,120.8 L432.4,121.5 L431.6,122.1 L430.9,122.7 L430.2,123.3 L429.4,123.8 L428.7,124.4 L428,124.9 L427.2,125.4 L426.5,125.8 L425.8,126.3 L425,126.7 L424.3,127.1 L423.6,127.6 L422.8,128 L422.1,128.4 L421.3,128.8 L420.6,129.1 L419.9,129.5 L419.1,129.9 L418.4,130.3 L417.7,130.6 L416.9,131 L416.2,131.3 L415.5,131.7 L414.7,132 L414,132.3 L413.3,132.6 L412.5,132.9 L411.8,133.2 L411,133.5 L410.3,133.8 L409.6,134.1 L408.8,134.3 L408.1,134.6 L407.4,134.8 L406.6,135 L405.9,135.3 L405.2,135.5 L404.4,135.7 L403.7,135.9 L403,136 L402.2,136.2 L401.5,136.4 L400.8,136.6 L400,136.7 L399.3,136.9 L398.5,137.1 L397.8,137.2 L397.1,137.4 L396.3,137.5 L395.6,137.7 L394.9,137.9 L394.1,138 L393.4,138.2 L392.7,138.3 L391.9,138.5 L391.2,138.6 L390.5,138.7 L389.7,138.8 L389,138.9 L388.3,139 L387.5,139.1 L386.8,139.2 L386,139.3 L385.3,139.4 L384.6,139.5 L383.8,139.5 L383.1,139.6 L382.4,139.7 L381.6,139.8 L380.9,139.9 L380.2,140 L379.4,140.1 L378.7,140.2 L378,140.3 L377.2,140.4 L376.5,140.5 L375.7,140.6 L375,140.7 L374.3,140.8 L373.5,140.8 L372.8,140.8 L372.1,140.9 L371.3,140.9 L370.6,141 L369.9,141 L369.1,141 L368.4,141.1 L367.7,141.1 L366.9,141.1 L366.2,141.2 L365.5,141.2 L364.7,141.3 L364,141.3 L363.2,141.3 L362.5,141.4 L361.8,141.4 L361,141.4 L360.3,141.5 L359.6,141.5 L358.8,141.5 L358.1,141.6 L357.4,141.6 L356.6,141.6 L355.9,141.6 L355.2,141.6 L354.4,141.7 L353.7,141.7 L353,141.7 L352.2,141.7 L351.5,141.7 L350.7,141.7 L350,141.7 L349.3,141.7" fill="none" stroke="#1010d0" stroke-width="1.5"/>
<path d="M406.9,102.9 L407.6,100.8 L408.3,98.8 L409,96.9 L409.8,95.2 L410.5,93.4 L411.2,91.8 L412,90.2 L412.7,88.7 L413.4,87.4 L414.1,86.2 L414.9,85 L415.6,83.9 L416.3,82.9 L417.1,81.9 L417.8,81 L418.5,80 L419.2,79.1 L420,78.3 L420.7,77.4 L421.4,76.7 L422.2,75.9 L422.9,75.2 L423.6,74.5 L424.3,73.9 L425.1,73.3 L425.8,72.8 L426.5,72.3 L427.3,71.9 L428,71.5 L428.7,71.1 L429.4,70.7 L430.2,70.3 L430.9,69.9 L431.6,69.6 L432.4,69.2 L433.1,68.9 L433.8,68.6 L434.5,68.3 L435.3,68.1 L436,67.8 L436.7,67.6 L437.5,67.4 L438.2,67.2 L438.9,67 L439.6,66.8 L440.4,66.7 L441.1,66.5 L441.8,66.4 L442.6,66.2 L443.3,66 L444,65.9 L444.7,65.8 L445.5,65.7 L446.2,65.6 L446.9,65.5 L447.7,65.4 L448.4,65.3 L449.1,65.2 L449.8,65.1 L450.6,65 L451.3,64.9 L452,64.8 L452.8,64.8 L453.5,64.7 L454.2,64.7 L455,64.6 L455.7,64.6 L456.4,64.6 L457.1,64.5 L457.9,64.5 L458.6,64.5 L459.3,64.4 L460.1,64.4 L460.8,64.4 L461.5,64.3 L462.2,64.3 L463,64.3 L463.7,64.3 L464.4,64.3" fill="none" stroke="#1010d0" stroke-width="1.5"/>
<circle cx="352.8" cy="127.2" r="2.0" fill="#1010d0"/>
<circle cx="360.7" cy="110.3" r="2.0" fill="#1010d0"/>
<circle cx="368.6" cy="98.7" r="2.0" fill="#1010d0"/>
<circle cx="376.5" cy="89.2" r="2.0" fill="#1010d0"/>
<circle cx="384.4" cy="82.1" r="2.0" fill="#1010d0"/>
<circle cx="392.3" cy="77.3" r="2.0" fill="#1010d0"/>
<circle cx="400.2" cy="73.5" r="2.0" fill="#1010d0"/>
<circle cx="408.1" cy="70.7" r="2.0" fill="#1010d0"/>
<circle cx="416" cy="68.8" r="2.0" fill="#1010d0"/>
<circle cx="423.9" cy="67.2" r="2.0" fill="#1010d0"/>
<circle cx="431.7" cy="66.2" r="2.0" fill="#1010d0"/>
<circle cx="439.6" cy="65.2" r="2.0" fill="#1010d0"/>
<circle cx="447.5" cy="64.8" r="2.0" fill="#1010d0"/>
<circle cx="455.4" cy="64.4" r="2.0" fill="#1010d0"/>
<circle cx="463.3" cy="64.3" r="2.0" fill="#1010d0"/>
<circle cx="465.1" cy="67.7" r="2.0" fill="#1010d0"/>
<circle cx="457.2" cy="87.3" r="2.0" fill="#1010d0"/>
<circle cx="449.3" cy="101.5" r="2.0" fill="#1010d0"/>
<circle cx="441.4" cy="112" r="2.0" fill="#1010d0"/>
<circle cx="433.5" cy="120.4" r="2.0" fill="#1010d0"/>
<circle cx="425.6" cy="126.4" r="2.0" fill="#1010d0"/>
<circle cx="417.7" cy="130.6" r="2.0" fill="#1010d0"/>
<circle cx="409.9" cy="134" r="2.0" fill="#1010d0"/>
<circle cx="402" cy="136.3" r="2.0" fill="#1010d0"/>
<circle cx="394.1" cy="138" r="2.0" fill="#1010d0"/>
<circle cx="386.2" cy="139.3" r="2.0" fill="#1010d0"/>
<circle cx="378.3" cy="140.3" r="2.0" fill="#1010d0"/>
<circle cx="370.4" cy="141" r="2.0" fill="#1010d0"/>
<circle cx="362.5" cy="141.4" r="2.0" fill="#1010d0"/>
<circle cx="354.6" cy="141.7" r="2.0" fill="#1010d0"/>
<circle cx="406.9" cy="102.9" r="2.0" fill="#1010d0"/>
<circle cx="414.7" cy="85.2" r="2.0" fill="#1010d0"/>
<circle cx="422.6" cy="75.5" r="2.0" fill="#1010d0"/>
<circle cx="430.5" cy="70.1" r="2.0" fill="#1010d0"/>
<circle cx="438.4" cy="67.1" r="2.0" fill="#1010d0"/>
<circle cx="446.3" cy="65.6" r="2.0" fill="#1010d0"/>
<circle cx="454.2" cy="64.7" r="2.0" fill="#1010d0"/>
<circle cx="462.1" cy="64.3" r="2.0" fill="#1010d0"/>
<path d="M72.9,373 L73.8,372.3 L74.8,371.6 L75.7,370.9 L76.6,370.2 L77.6,369.4 L78.5,368.6 L79.4,367.8 L80.3,367 L81.3,366.2 L82.2,365.3 L83.1,364.4 L84.1,363.5 L85,362.5 L85.9,361.5 L86.8,360.5 L87.8,359.4 L88.7,358.4 L89.6,357.3 L90.5,356.3 L91.5,355.2 L92.4,354.2 L93.3,353.2 L94.3,352.2 L95.2,351.2 L96.1,350.2 L97,349.2 L98,348.2 L98.9,347.3 L99.8,346.3 L100.8,345.3 L101.7,344.3 L102.6,343.3 L103.5,342.3 L104.5,341.3 L105.4,340.3 L106.3,339.3 L107.3,338.2 L108.2,337.2 L109.1,336.2 L110,335.2 L111,334.2 L111.9,333.3 L112.8,332.4 L113.7,331.6 L114.7,330.8 L115.6,330 L116.5,329.3 L117.5,328.6 L118.4,327.9 L119.3,327.1 L120.2,326.3 L121.2,325.5 L122.1,324.5 L123,323.5 L124,322.3 L124.9,321 L125.8,319.7 L126.7,318.5 L127.7,317.2 L128.6,316 L129.5,315 L130.4,313.9 L131.4,312.9 L132.3,311.9 L133.2,310.9 L134.2,309.9 L135.1,308.9 L136,307.9 L136.9,306.8 L137.9,305.7 L138.8,304.6 L139.7,303.4 L140.7,302.2 L141.6,301 L142.5,299.8 L143.4,298.6 L144.4,297.4 L145.3,296.3 L146.2,295.1 L147.2,294 L148.1,293 L149,292 L149.9,291 L150.9,290.1 L151.8,289.3 L152.7,288.5 L153.6,287.7 L154.6,286.9 L155.5,286.2 L156.4,285.4 L157.4,284.7 L158.3,283.9 L159.2,283.2 L160.1,282.5 L161.1,281.7 L162,280.9 L162.9,280.1 L163.9,279.3 L164.8,278.5 L165.7,277.7 L166.6,276.9 L167.6,276.1 L168.5,275.3 L169.4,274.4 L170.3,273.6 L171.3,272.8 L172.2,272 L173.1,271.3 L174.1,270.5 L175,269.6 L175.9,268.8 L176.8,268 L177.8,267.2 L178.7,266.4 L179.6,265.5 L180.6,264.7 L181.5,264 L182.4,263.2 L183.3,262.5 L184.3,261.7 L185.2,261.1 L186.1,260.4 L187.1,259.8 L188,259.3 L188.9,258.7 L189.8,258.2 L190.8,257.7 L191.7,257.2 L192.6,256.7 L193.5,256.2 L194.5,255.7 L195.4,255.2 L196.3,254.7 L197.3,254.2 L198.2,253.6 L199.1,253 L200,252.4 L201,251.8 L201.9,251.1 L202.8,250.5 L203.8,249.9 L204.7,249.4 L205.6,248.9 L206.5,248.5 L207.5,248.1 L208.4,247.8 L209.3,247.4 L210.3,247.2 L211.2,246.9 L212.1,246.7 L213,246.5 L214,246.3 L214.9,246.2 L215.8,246 L216.7,245.9 L217.7,245.7 L218.6,245.6 L219.5,245.6 L220.5,245.5" fill="none" stroke="#000" stroke-width="2.5" stroke-linecap="round" stroke-dasharray="0 8.6"/>
<path d="M76.7,373 L77.6,372.3 L78.6,371.6 L79.5,370.9 L80.4,370.2 L81.4,369.4 L82.3,368.6 L83.2,367.8 L84.1,367 L85.1,366.2 L86,365.3 L86.9,364.4 L87.9,363.5 L88.8,362.5 L89.7,361.5 L90.6,360.5 L91.6,359.4 L92.5,358.4 L93.4,357.3 L94.3,356.3 L95.3,355.2 L96.2,354.2 L97.1,353.2 L98.1,352.2 L99,351.2 L99.9,350.2 L100.8,349.2 L101.8,348.2 L102.7,347.3 L103.6,346.3 L104.6,345.3 L105.5,344.3 L106.4,343.3 L107.3,342.3 L108.3,341.3 L109.2,340.3 L110.1,339.3 L111.1,338.2 L112,337.2 L112.9,336.2 L113.8,335.2 L114.8,334.2 L115.7,333.3 L116.6,332.4 L117.5,331.6 L118.5,330.8 L119.4,330 L120.3,329.3 L121.3,328.6 L122.2,327.9 L123.1,327.1 L124,326.3 L125,325.5 L125.9,324.5 L126.8,323.5 L127.8,322.3 L128.7,321 L129.6,319.7 L130.5,318.5 L131.5,317.2 L132.4,316 L133.3,315 L134.2,313.9 L135.2,312.9 L136.1,311.9 L137,310.9 L138,309.9 L138.9,308.9 L139.8,307.9 L140.7,306.8 L141.7,305.7 L142.6,304.6 L143.5,303.4 L144.5,302.2 L145.4,301 L146.3,299.8 L147.2,298.6 L148.2,297.4 L149.1,296.3 L150,295.1 L151,294 L151.9,293 L152.8,292 L153.7,291 L154.7,290.1 L155.6,289.3 L156.5,288.5 L157.4,287.7 L158.4,286.9 L159.3,286.2 L160.2,285.4 L161.2,284.7 L162.1,283.9 L163,283.2 L163.9,282.5 L164.9,281.7 L165.8,280.9 L166.7,280.1 L167.7,279.3 L168.6,278.5 L169.5,277.7 L170.4,276.9 L171.4,276.1 L172.3,275.3 L173.2,274.4 L174.1,273.6 L175.1,272.8 L176,272 L176.9,271.3 L177.9,270.5 L178.8,269.6 L179.7,268.8 L180.6,268 L181.6,267.2 L182.5,266.4 L183.4,265.5 L184.4,264.7 L185.3,264 L186.2,263.2 L187.1,262.5 L188.1,261.7 L189,261.1 L189.9,260.4 L190.9,259.8 L191.8,259.3 L192.7,258.7 L193.6,258.2 L194.6,257.7 L195.5,257.2 L196.4,256.7 L197.3,256.2 L198.3,255.7 L199.2,255.2 L200.1,254.7 L201.1,254.2 L202,253.6 L202.9,253 L203.8,252.4 L204.8,251.8 L205.7,251.1 L206.6,250.5 L207.6,249.9 L208.5,249.4 L209.4,248.9 L210.3,248.5 L211.3,248.1 L212.2,247.8 L213.1,247.4 L214.1,247.2 L215,246.9 L215.9,246.7 L216.8,246.5 L217.8,246.3 L218.7,246.2 L219.6,246 L220.5,245.9 L221.5,245.7 L222.4,245.6 L223.3,245.6 L224.3,245.5" fill="none" stroke="#000" stroke-width="2.5" stroke-linecap="round" stroke-dasharray="0 8.6" stroke-dashoffset="0.6"/>
<path d="M220.5,245.5 L219.5,246.4 L218.6,247.3 L217.7,248.3 L216.7,249.2 L215.8,250.2 L214.9,251.1 L214,252.1 L213,253.1 L212.1,254.1 L211.2,255.2 L210.3,256.2 L209.3,257.2 L208.4,258.3 L207.5,259.3 L206.5,260.4 L205.6,261.5 L204.7,262.7 L203.8,263.9 L202.8,265.1 L201.9,266.5 L201,267.9 L200,269.5 L199.1,271 L198.2,272.6 L197.3,274.1 L196.3,275.5 L195.4,276.7 L194.5,277.9 L193.5,278.9 L192.6,279.8 L191.7,280.8 L190.8,281.9 L189.8,283.1 L188.9,284.6 L188,286.4 L187.1,288.3 L186.1,290.1 L185.2,291.8 L184.3,293.3 L183.3,294.8 L182.4,296.2 L181.5,297.6 L180.6,298.8 L179.6,299.9 L178.7,300.9 L177.8,301.9 L176.8,302.8 L175.9,303.7 L175,304.5 L174.1,305.3 L173.1,306.1 L172.2,306.8 L171.3,307.4 L170.3,308 L169.4,308.6 L168.5,309.3 L167.6,309.9 L166.6,310.7 L165.7,311.6 L164.8,312.6 L163.9,313.7 L162.9,314.9 L162,316.1 L161.1,317.2 L160.1,318.3 L159.2,319.3 L158.3,320.1 L157.4,320.8 L156.4,321.5 L155.5,322.1 L154.6,322.7 L153.6,323.2 L152.7,323.8 L151.8,324.4 L150.9,325.1 L149.9,325.9 L149,326.8 L148.1,327.8 L147.2,328.9 L146.2,330 L145.3,331.2 L144.4,332.4 L143.4,333.6 L142.5,334.8 L141.6,336 L140.7,337.1 L139.7,338.1 L138.8,339.1 L137.9,339.9 L136.9,340.7 L136,341.4 L135.1,342.1 L134.2,342.8 L133.2,343.5 L132.3,344.1 L131.4,344.8 L130.4,345.4 L129.5,346 L128.6,346.5 L127.7,347.1 L126.7,347.7 L125.8,348.3 L124.9,348.8 L124,349.4 L123,350 L122.1,350.6 L121.2,351.2 L120.2,351.8 L119.3,352.5 L118.4,353.1 L117.5,353.7 L116.5,354.4 L115.6,355 L114.7,355.6 L113.7,356.3 L112.8,356.9 L111.9,357.5 L111,358 L110,358.6 L109.1,359.1 L108.2,359.6 L107.3,360.1 L106.3,360.6 L105.4,361 L104.5,361.4 L103.5,361.7 L102.6,362.1 L101.7,362.5 L100.8,362.8 L99.8,363.1 L98.9,363.4 L98,363.7 L97,364 L96.1,364.3 L95.2,364.6 L94.3,364.9 L93.3,365.2 L92.4,365.6 L91.5,365.9 L90.5,366.2 L89.6,366.5 L88.7,366.8 L87.8,367.2 L86.8,367.5 L85.9,367.9 L85,368.2 L84.1,368.6 L83.1,369 L82.2,369.3 L81.3,369.7 L80.3,370 L79.4,370.4 L78.5,370.8 L77.6,371.1 L76.6,371.5 L75.7,371.9 L74.8,372.2 L73.8,372.6 L72.9,373" fill="none" stroke="#000" stroke-width="2.5" stroke-linecap="round" stroke-dasharray="0 8.6"/>
<path d="M224.3,245.5 L223.3,246.4 L222.4,247.3 L221.5,248.3 L220.5,249.2 L219.6,250.2 L218.7,251.1 L217.8,252.1 L216.8,253.1 L215.9,254.1 L215,255.2 L214.1,256.2 L213.1,257.2 L212.2,258.3 L211.3,259.3 L210.3,260.4 L209.4,261.5 L208.5,262.7 L207.6,263.9 L206.6,265.1 L205.7,266.5 L204.8,267.9 L203.8,269.5 L202.9,271 L202,272.6 L201.1,274.1 L200.1,275.5 L199.2,276.7 L198.3,277.9 L197.3,278.9 L196.4,279.8 L195.5,280.8 L194.6,281.9 L193.6,283.1 L192.7,284.6 L191.8,286.4 L190.9,288.3 L189.9,290.1 L189,291.8 L188.1,293.3 L187.1,294.8 L186.2,296.2 L185.3,297.6 L184.4,298.8 L183.4,299.9 L182.5,300.9 L181.6,301.9 L180.6,302.8 L179.7,303.7 L178.8,304.5 L177.9,305.3 L176.9,306.1 L176,306.8 L175.1,307.4 L174.1,308 L173.2,308.6 L172.3,309.3 L171.4,309.9 L170.4,310.7 L169.5,311.6 L168.6,312.6 L167.7,313.7 L166.7,314.9 L165.8,316.1 L164.9,317.2 L163.9,318.3 L163,319.3 L162.1,320.1 L161.2,320.8 L160.2,321.5 L159.3,322.1 L158.4,322.7 L157.4,323.2 L156.5,323.8 L155.6,324.4 L154.7,325.1 L153.7,325.9 L152.8,326.8 L151.9,327.8 L151,328.9 L150,330 L149.1,331.2 L148.2,332.4 L147.2,333.6 L146.3,334.8 L145.4,336 L144.5,337.1 L143.5,338.1 L142.6,339.1 L141.7,339.9 L140.7,340.7 L139.8,341.4 L138.9,342.1 L138,342.8 L137,343.5 L136.1,344.1 L135.2,344.8 L134.2,345.4 L133.3,346 L132.4,346.5 L131.5,347.1 L130.5,347.7 L129.6,348.3 L128.7,348.8 L127.8,349.4 L126.8,350 L125.9,350.6 L125,351.2 L124,351.8 L123.1,352.5 L122.2,353.1 L121.3,353.7 L120.3,354.4 L119.4,355 L118.5,355.6 L117.5,356.3 L116.6,356.9 L115.7,357.5 L114.8,358 L113.8,358.6 L112.9,359.1 L112,359.6 L111.1,360.1 L110.1,360.6 L109.2,361 L108.3,361.4 L107.3,361.7 L106.4,362.1 L105.5,362.5 L104.6,362.8 L103.6,363.1 L102.7,363.4 L101.8,363.7 L100.8,364 L99.9,364.3 L99,364.6 L98.1,364.9 L97.1,365.2 L96.2,365.6 L95.3,365.9 L94.3,366.2 L93.4,366.5 L92.5,366.8 L91.6,367.2 L90.6,367.5 L89.7,367.9 L88.8,368.2 L87.9,368.6 L86.9,369 L86,369.3 L85.1,369.7 L84.1,370 L83.2,370.4 L82.3,370.8 L81.4,371.1 L80.4,371.5 L79.5,371.9 L78.6,372.2 L77.6,372.6 L76.7,373" fill="none" stroke="#000" stroke-width="2.5" stroke-linecap="round" stroke-dasharray="0 8.6" stroke-dashoffset="0.6"/>
<path d="M78.7,357.1 L79.6,351.3 L80.6,346.1 L81.5,341.9 L82.4,338.6 L83.3,335.9 L84.2,333.5 L85.1,331 L86.1,328.1 L87,324.8 L87.9,321.3 L88.8,317.8 L89.7,314.5 L90.6,311.4 L91.6,308.3 L92.5,305.3 L93.4,302.6 L94.3,300.1 L95.2,297.9 L96.1,295.9 L97.1,294.1 L98,292.4 L98.9,290.8 L99.8,289.2 L100.7,287.7 L101.7,286.2 L102.6,284.6 L103.5,283 L104.4,281.4 L105.3,279.7 L106.2,278.1 L107.2,276.5 L108.1,275 L109,273.7 L109.9,272.5 L110.8,271.4 L111.7,270.5 L112.7,269.8 L113.6,269.1 L114.5,268.4 L115.4,267.8 L116.3,267.3 L117.2,266.7 L118.2,266.2 L119.1,265.7 L120,265.3 L120.9,264.8 L121.8,264.4 L122.8,264 L123.7,263.5 L124.6,263.1 L125.5,262.6 L126.4,262.2 L127.3,261.7 L128.3,261.3 L129.2,260.9 L130.1,260.5 L131,260.1 L131.9,259.8 L132.8,259.5 L133.8,259.3 L134.7,259.1 L135.6,258.8 L136.5,258.6 L137.4,258.4 L138.3,258.2 L139.3,258 L140.2,257.8 L141.1,257.7 L142,257.5 L142.9,257.3 L143.9,257.2 L144.8,257.1 L145.7,256.9 L146.6,256.8 L147.5,256.7 L148.4,256.7 L149.4,256.6 L150.3,256.5 L151.2,256.5 L152.1,256.4 L153,256.4 L153.9,256.4 L154.9,256.3 L155.8,256.3 L156.7,256.2 L157.6,256.2 L158.5,256.2 L159.4,256.1 L160.4,256.1 L161.3,256.1 L162.2,256.1 L163.1,256 L164,256 L165,256 L165.9,256 L166.8,256 L167.7,256 L168.6,255.9 L169.5,255.9 L170.5,255.9 L171.4,255.9 L172.3,255.9 L173.2,255.9 L174.1,255.9 L175,255.9 L176,255.9 L176.9,255.9 L177.8,255.9 L178.7,255.9 L179.6,255.9 L180.5,255.9 L181.5,255.9 L182.4,255.9 L183.3,255.9 L184.2,255.9 L185.1,255.9 L186.1,255.9 L187,255.9 L187.9,255.9 L188.8,255.9 L189.7,255.9 L190.6,255.9 L191.6,255.9 L192.5,255.9 L193.4,255.9 L194.3,255.9 L195.2,255.9 L196.1,255.9 L197.1,255.9 L198,255.9 L198.9,255.9 L199.8,255.9 L200.7,255.9 L201.6,255.9 L202.6,255.9 L203.5,255.9 L204.4,255.9 L205.3,255.9 L206.2,255.9 L207.2,255.9 L208.1,255.9 L209,255.9 L209.9,255.9 L210.8,255.9 L211.7,255.9 L212.7,255.9 L213.6,255.9 L214.5,255.9 L215.4,255.9 L216.3,255.9 L217.2,255.9 L218.2,255.9 L219.1,255.9 L220,255.9 L220.9,255.9 L221.8,255.9 L222.7,255.9 L223.7,255.9 L224.6,255.9 L223.7,259.9 L222.7,263.9 L221.8,267.9 L220.9,271.9 L220,276 L219.1,280.2 L218.2,284.6 L217.2,289 L216.3,293.2 L215.4,297.1 L214.5,300.3 L213.6,303.3 L212.7,306 L211.7,308.6 L210.8,311.1 L209.9,313.4 L209,315.7 L208.1,317.9 L207.2,320.1 L206.2,322.1 L205.3,324.1 L204.4,326 L203.5,327.7 L202.6,329.3 L201.6,330.8 L200.7,332.3 L199.8,333.8 L198.9,335.2 L198,336.6 L197.1,337.9 L196.1,339.1 L195.2,340.2 L194.3,341.3 L193.4,342.2 L192.5,343.1 L191.6,343.8 L190.6,344.5 L189.7,345.2 L188.8,345.8 L187.9,346.4 L187,347 L186.1,347.5 L185.1,348 L184.2,348.5 L183.3,349 L182.4,349.4 L181.5,349.9 L180.5,350.3 L179.6,350.7 L178.7,351.1 L177.8,351.4 L176.9,351.8 L176,352.2 L175,352.5 L174.1,352.8 L173.2,353.1 L172.3,353.3 L171.4,353.6 L170.5,353.8 L169.5,354 L168.6,354.2 L167.7,354.4 L166.8,354.5 L165.9,354.7 L165,354.9 L164,355.1 L163.1,355.3 L162.2,355.4 L161.3,355.6 L160.4,355.7 L159.4,355.8 L158.5,356 L157.6,356.1 L156.7,356.2 L155.8,356.3 L154.9,356.4 L153.9,356.4 L153,356.5 L152.1,356.5 L151.2,356.5 L150.3,356.5 L149.4,356.5 L148.4,356.6 L147.5,356.6 L146.6,356.6 L145.7,356.6 L144.8,356.6 L143.9,356.6 L142.9,356.7 L142,356.7 L141.1,356.7 L140.2,356.7 L139.3,356.7 L138.3,356.7 L137.4,356.7 L136.5,356.7 L135.6,356.8 L134.7,356.8 L133.8,356.8 L132.8,356.8 L131.9,356.8 L131,356.8 L130.1,356.8 L129.2,356.8 L128.3,356.8 L127.3,356.9 L126.4,356.9 L125.5,356.9 L124.6,356.9 L123.7,356.9 L122.8,356.9 L121.8,356.9 L120.9,356.9 L120,356.9 L119.1,356.9 L118.2,356.9 L117.2,356.9 L116.3,357 L115.4,357 L114.5,357 L113.6,357 L112.7,357 L111.7,357 L110.8,357 L109.9,357 L109,357 L108.1,357 L107.2,357 L106.2,357 L105.3,357 L104.4,357 L103.5,357 L102.6,357 L101.7,357 L100.7,357 L99.8,357 L98.9,357.1 L98,357.1 L97.1,357.1 L96.1,357.1 L95.2,357.1 L94.3,357.1 L93.4,357.1 L92.5,357.1 L91.6,357.1 L90.6,357.1 L89.7,357.1 L88.8,357.1 L87.9,357.1 L87,357.1 L86.1,357.1 L85.1,357.1 L84.2,357.1 L83.3,357.1 L82.4,357.1 L81.5,357.1 L80.6,357.1 L79.6,357.1 L78.7,357.1" fill="none" stroke="#1ee01e" stroke-width="1.3" stroke-dasharray="4.5 1.5 1.5 1.5"/>
<rect x="76.8" y="354.1" width="4.2" height="4.2" fill="#1ee01e"/>
<rect x="79.4" y="339.7" width="4.2" height="4.2" fill="#1ee01e"/>
<rect x="84.1" y="325.4" width="4.2" height="4.2" fill="#1ee01e"/>
<rect x="88" y="311" width="4.2" height="4.2" fill="#1ee01e"/>
<rect x="92.7" y="296.7" width="4.2" height="4.2" fill="#1ee01e"/>
<rect x="100.4" y="282.6" width="4.2" height="4.2" fill="#1ee01e"/>
<rect x="109.4" y="268.7" width="4.2" height="4.2" fill="#1ee01e"/>
<rect x="130.7" y="257.4" width="4.2" height="4.2" fill="#1ee01e"/>
<rect x="163.9" y="253.9" width="4.2" height="4.2" fill="#1ee01e"/>
<rect x="198.7" y="253.8" width="4.2" height="4.2" fill="#1ee01e"/>
<rect x="222.1" y="255.3" width="4.2" height="4.2" fill="#1ee01e"/>
<rect x="218.8" y="269.7" width="4.2" height="4.2" fill="#1ee01e"/>
<rect x="215.7" y="284.1" width="4.2" height="4.2" fill="#1ee01e"/>
<rect x="212.3" y="298.5" width="4.2" height="4.2" fill="#1ee01e"/>
<rect x="207.2" y="312.8" width="4.2" height="4.2" fill="#1ee01e"/>
<rect x="200.6" y="327" width="4.2" height="4.2" fill="#1ee01e"/>
<rect x="190.6" y="340.8" width="4.2" height="4.2" fill="#1ee01e"/>
<rect x="168.4" y="351.7" width="4.2" height="4.2" fill="#1ee01e"/>
<rect x="134.9" y="354.6" width="4.2" height="4.2" fill="#1ee01e"/>
<rect x="100.1" y="354.9" width="4.2" height="4.2" fill="#1ee01e"/>
<path d="M78.7,371 L79.6,368.1 L80.6,365.3 L81.5,362.5 L82.4,359.8 L83.3,357.2 L84.2,354.7 L85.1,352.3 L86.1,349.8 L87,347.5 L87.9,345.1 L88.8,342.7 L89.7,340.5 L90.6,338.2 L91.6,336 L92.5,333.9 L93.4,331.9 L94.3,329.9 L95.2,328.1 L96.1,326.3 L97.1,324.6 L98,323 L98.9,321.5 L99.8,319.9 L100.7,318.4 L101.7,317 L102.6,315.6 L103.5,314.2 L104.4,312.9 L105.3,311.6 L106.2,310.3 L107.2,309 L108.1,307.8 L109,306.5 L109.9,305.3 L110.8,304.1 L111.7,303 L112.7,301.8 L113.6,300.6 L114.5,299.5 L115.4,298.3 L116.3,297.2 L117.2,296 L118.2,294.9 L119.1,293.7 L120,292.5 L120.9,291.3 L121.8,290.1 L122.8,288.9 L123.7,287.7 L124.6,286.5 L125.5,285.3 L126.4,284.1 L127.3,282.9 L128.3,281.6 L129.2,280.4 L130.1,279.2 L131,278 L131.9,276.8 L132.8,275.6 L133.8,274.5 L134.7,273.3 L135.6,272.2 L136.5,271.1 L137.4,270 L138.3,268.9 L139.3,267.9 L140.2,266.9 L141.1,265.9 L142,265 L142.9,264.1 L143.9,263.2 L144.8,262.4 L145.7,261.6 L146.6,260.8 L147.5,260.1 L148.4,259.4 L149.4,258.7 L150.3,258 L151.2,257.4 L152.1,256.7 L153,256.1 L153.9,255.5 L154.9,254.9 L155.8,254.4 L156.7,253.8 L157.6,253.3 L158.5,252.7 L159.4,252.2 L160.4,251.7 L161.3,251.2 L162.2,250.6 L163.1,250.1 L164,249.6 L165,249.2 L165.9,248.7 L166.8,248.3 L167.7,247.9 L168.6,247.6 L169.5,247.4 L170.5,247.1 L171.4,246.9 L172.3,246.6 L173.2,246.4 L174.1,246.2 L175,246 L176,245.7 L176.9,245.5 L177.8,245.3 L178.7,245.1 L179.6,245 L180.5,244.8 L181.5,244.6 L182.4,244.4 L183.3,244.3 L184.2,244.1 L185.1,244 L186.1,243.9 L187,243.8 L187.9,243.7 L188.8,243.6 L189.7,243.5 L190.6,243.4 L191.6,243.3 L192.5,243.3 L193.4,243.2 L194.3,243.2 L195.2,243.1 L196.1,243.1 L197.1,243.1 L198,243.1 L198.9,243 L199.8,243 L200.7,243 L201.6,243 L202.6,242.9 L203.5,242.9 L204.4,242.9 L205.3,242.9 L206.2,242.9 L207.2,242.9 L208.1,242.8 L209,242.8 L209.9,242.8 L210.8,242.8 L211.7,242.8 L212.7,242.7 L213.6,242.7 L214.5,242.7 L215.4,242.7 L216.3,242.7 L217.2,242.6 L218.2,242.6 L219.1,242.6 L220,242.5 L220.9,242.5 L221.8,242.5 L222.7,242.4 L223.7,242.4 L224.6,242.4 L223.7,245.5 L222.7,248.3 L221.8,251.1 L220.9,253.8 L220,256.4 L219.1,258.9 L218.2,261.3 L217.2,263.8 L216.3,266.1 L215.4,268.5 L214.5,270.9 L213.6,273.1 L212.7,275.4 L211.7,277.6 L210.8,279.7 L209.9,281.7 L209,283.7 L208.1,285.5 L207.2,287.3 L206.2,289 L205.3,290.6 L204.4,292.1 L203.5,293.7 L202.6,295.2 L201.6,296.6 L200.7,298 L199.8,299.4 L198.9,300.7 L198,302 L197.1,303.3 L196.1,304.6 L195.2,305.8 L194.3,307.1 L193.4,308.3 L192.5,309.5 L191.6,310.6 L190.6,311.8 L189.7,313 L188.8,314.1 L187.9,315.3 L187,316.4 L186.1,317.6 L185.1,318.7 L184.2,319.9 L183.3,321.1 L182.4,322.3 L181.5,323.5 L180.5,324.7 L179.6,325.9 L178.7,327.1 L177.8,328.3 L176.9,329.5 L176,330.7 L175,332 L174.1,333.2 L173.2,334.4 L172.3,335.6 L171.4,336.8 L170.5,338 L169.5,339.1 L168.6,340.3 L167.7,341.4 L166.8,342.5 L165.9,343.6 L165,344.7 L164,345.7 L163.1,346.7 L162.2,347.7 L161.3,348.6 L160.4,349.5 L159.4,350.4 L158.5,351.2 L157.6,352 L156.7,352.8 L155.8,353.5 L154.9,354.2 L153.9,354.9 L153,355.6 L152.1,356.2 L151.2,356.9 L150.3,357.5 L149.4,358.1 L148.4,358.7 L147.5,359.2 L146.6,359.8 L145.7,360.3 L144.8,360.9 L143.9,361.4 L142.9,361.9 L142,362.4 L141.1,363 L140.2,363.5 L139.3,364 L138.3,364.4 L137.4,364.9 L136.5,365.3 L135.6,365.7 L134.7,366 L133.8,366.2 L132.8,366.5 L131.9,366.7 L131,367 L130.1,367.2 L129.2,367.4 L128.3,367.6 L127.3,367.9 L126.4,368.1 L125.5,368.3 L124.6,368.5 L123.7,368.6 L122.8,368.8 L121.8,369 L120.9,369.2 L120,369.3 L119.1,369.5 L118.2,369.6 L117.2,369.7 L116.3,369.8 L115.4,369.9 L114.5,370 L113.6,370.1 L112.7,370.2 L111.7,370.3 L110.8,370.3 L109.9,370.4 L109,370.4 L108.1,370.5 L107.2,370.5 L106.2,370.5 L105.3,370.5 L104.4,370.6 L103.5,370.6 L102.6,370.6 L101.7,370.6 L100.7,370.7 L99.8,370.7 L98.9,370.7 L98,370.7 L97.1,370.7 L96.1,370.7 L95.2,370.8 L94.3,370.8 L93.4,370.8 L92.5,370.8 L91.6,370.8 L90.6,370.9 L89.7,370.9 L88.8,370.9 L87.9,370.9 L87,370.9 L86.1,371 L85.1,371 L84.2,371 L83.3,371.1 L82.4,371.1 L81.5,371.1 L80.6,371.2 L79.6,371.2 L78.7,371.2" fill="none" stroke="#e81818" stroke-width="1.3" stroke-dasharray="3.2 1.8"/>
<path d="M224.3,240.6 L227,245.5 L221.6,245.5Z" fill="#e81818"/>
<path d="M200.1,296.1 L202.8,300.9 L197.4,300.9Z" fill="#e81818"/>
<path d="M175.9,328 L178.6,332.8 L173.2,332.8Z" fill="#e81818"/>
<path d="M151.6,353.6 L154.3,358.5 L148.9,358.5Z" fill="#e81818"/>
<path d="M127.4,364.9 L130.1,369.8 L124.7,369.8Z" fill="#e81818"/>
<path d="M103.2,367.7 L105.9,372.5 L100.5,372.5Z" fill="#e81818"/>
<path d="M79,368.3 L81.7,373.2 L76.3,373.2Z" fill="#e81818"/>
<path d="M96.5,322.7 L99.2,327.5 L93.8,327.5Z" fill="#e81818"/>
<path d="M120.8,288.6 L123.5,293.5 L118.1,293.5Z" fill="#e81818"/>
<path d="M145,259.3 L147.7,264.1 L142.3,264.1Z" fill="#e81818"/>
<path d="M169.2,244.6 L171.9,249.4 L166.5,249.4Z" fill="#e81818"/>
<path d="M193.4,240.3 L196.1,245.2 L190.7,245.2Z" fill="#e81818"/>
<path d="M217.6,239.7 L220.3,244.6 L214.9,244.6Z" fill="#e81818"/>
<path d="M78.7,360.6 L79.6,359.2 L80.6,357.8 L81.5,356.4 L82.4,355.1 L83.3,353.7 L84.2,352.4 L85.1,351 L86.1,349.7 L87,348.4 L87.9,347.1 L88.8,345.7 L89.7,344.4 L90.6,343.1 L91.6,341.7 L92.5,340.4 L93.4,339.1 L94.3,337.7 L95.2,336.4 L96.1,335.1 L97.1,333.8 L98,332.6 L98.9,331.3 L99.8,330.1 L100.7,328.8 L101.7,327.6 L102.6,326.4 L103.5,325.3 L104.4,324.1 L105.3,323 L106.2,321.9 L107.2,320.9 L108.1,319.8 L109,318.7 L109.9,317.7 L110.8,316.7 L111.7,315.7 L112.7,314.7 L113.6,313.7 L114.5,312.7 L115.4,311.7 L116.3,310.8 L117.2,309.8 L118.2,308.9 L119.1,307.9 L120,307 L120.9,306.1 L121.8,305.2 L122.8,304.3 L123.7,303.5 L124.6,302.6 L125.5,301.7 L126.4,300.9 L127.3,300 L128.3,299.2 L129.2,298.3 L130.1,297.5 L131,296.7 L131.9,295.8 L132.8,295 L133.8,294.2 L134.7,293.4 L135.6,292.7 L136.5,291.9 L137.4,291.2 L138.3,290.4 L139.3,289.7 L140.2,289 L141.1,288.3 L142,287.6 L142.9,286.9 L143.9,286.3 L144.8,285.7 L145.7,285 L146.6,284.4 L147.5,283.8 L148.4,283.2 L149.4,282.7 L150.3,282.1 L151.2,281.5 L152.1,281 L153,280.4 L153.9,279.9 L154.9,279.4 L155.8,278.9 L156.7,278.3 L157.6,277.8 L158.5,277.3 L159.4,276.8 L160.4,276.3 L161.3,275.8 L162.2,275.3 L163.1,274.8 L164,274.3 L165,273.8 L165.9,273.4 L166.8,272.9 L167.7,272.4 L168.6,271.9 L169.5,271.4 L170.5,271 L171.4,270.5 L172.3,270.1 L173.2,269.6 L174.1,269.2 L175,268.7 L176,268.3 L176.9,267.9 L177.8,267.4 L178.7,267 L179.6,266.6 L180.5,266.2 L181.5,265.8 L182.4,265.4 L183.3,265 L184.2,264.7 L185.1,264.3 L186.1,263.9 L187,263.5 L187.9,263.2 L188.8,262.8 L189.7,262.5 L190.6,262.1 L191.6,261.8 L192.5,261.4 L193.4,261.1 L194.3,260.8 L195.2,260.4 L196.1,260.1 L197.1,259.8 L198,259.5 L198.9,259.2 L199.8,258.9 L200.7,258.7 L201.6,258.4 L202.6,258.2 L203.5,257.9 L204.4,257.7 L205.3,257.5 L206.2,257.2 L207.2,257 L208.1,256.8 L209,256.6 L209.9,256.4 L210.8,256.2 L211.7,256 L212.7,255.8 L213.6,255.6 L214.5,255.4 L215.4,255.2 L216.3,255 L217.2,254.8 L218.2,254.6 L219.1,254.4 L220,254.2 L220.9,254 L221.8,253.9 L222.7,253.7 L223.7,253.5 L224.6,253.3 L223.7,254.4 L222.7,255.8 L221.8,257.2 L220.9,258.5 L220,259.9 L219.1,261.2 L218.2,262.6 L217.2,263.9 L216.3,265.2 L215.4,266.5 L214.5,267.9 L213.6,269.2 L212.7,270.5 L211.7,271.9 L210.8,273.2 L209.9,274.5 L209,275.9 L208.1,277.2 L207.2,278.5 L206.2,279.8 L205.3,281 L204.4,282.3 L203.5,283.5 L202.6,284.8 L201.6,286 L200.7,287.2 L199.8,288.3 L198.9,289.5 L198,290.6 L197.1,291.7 L196.1,292.7 L195.2,293.8 L194.3,294.9 L193.4,295.9 L192.5,296.9 L191.6,297.9 L190.6,298.9 L189.7,299.9 L188.8,300.9 L187.9,301.9 L187,302.8 L186.1,303.8 L185.1,304.7 L184.2,305.7 L183.3,306.6 L182.4,307.5 L181.5,308.4 L180.5,309.3 L179.6,310.1 L178.7,311 L177.8,311.9 L176.9,312.7 L176,313.6 L175,314.4 L174.1,315.3 L173.2,316.1 L172.3,316.9 L171.4,317.8 L170.5,318.6 L169.5,319.4 L168.6,320.2 L167.7,320.9 L166.8,321.7 L165.9,322.4 L165,323.2 L164,323.9 L163.1,324.6 L162.2,325.3 L161.3,326 L160.4,326.7 L159.4,327.3 L158.5,327.9 L157.6,328.6 L156.7,329.2 L155.8,329.8 L154.9,330.4 L153.9,330.9 L153,331.5 L152.1,332.1 L151.2,332.6 L150.3,333.2 L149.4,333.7 L148.4,334.2 L147.5,334.7 L146.6,335.3 L145.7,335.8 L144.8,336.3 L143.9,336.8 L142.9,337.3 L142,337.8 L141.1,338.3 L140.2,338.8 L139.3,339.3 L138.3,339.8 L137.4,340.2 L136.5,340.7 L135.6,341.2 L134.7,341.7 L133.8,342.2 L132.8,342.6 L131.9,343.1 L131,343.5 L130.1,344 L129.2,344.4 L128.3,344.9 L127.3,345.3 L126.4,345.7 L125.5,346.2 L124.6,346.6 L123.7,347 L122.8,347.4 L121.8,347.8 L120.9,348.2 L120,348.6 L119.1,348.9 L118.2,349.3 L117.2,349.7 L116.3,350.1 L115.4,350.4 L114.5,350.8 L113.6,351.1 L112.7,351.5 L111.7,351.8 L110.8,352.2 L109.9,352.5 L109,352.8 L108.1,353.2 L107.2,353.5 L106.2,353.8 L105.3,354.1 L104.4,354.4 L103.5,354.7 L102.6,354.9 L101.7,355.2 L100.7,355.4 L99.8,355.7 L98.9,355.9 L98,356.1 L97.1,356.4 L96.1,356.6 L95.2,356.8 L94.3,357 L93.4,357.2 L92.5,357.4 L91.6,357.6 L90.6,357.8 L89.7,358 L88.8,358.2 L87.9,358.4 L87,358.6 L86.1,358.8 L85.1,359 L84.2,359.2 L83.3,359.4 L82.4,359.6 L81.5,359.7 L80.6,359.9 L79.6,360.1 L78.7,360.3" fill="none" stroke="#1010d0" stroke-width="1.5"/>
<path d="M151.6,306.9 L152.6,305.6 L153.5,304.2 L154.4,302.8 L155.3,301.5 L156.3,300.2 L157.2,298.8 L158.1,297.5 L159,296.1 L160,294.8 L160.9,293.5 L161.8,292.2 L162.7,291 L163.7,289.8 L164.6,288.6 L165.5,287.5 L166.4,286.5 L167.3,285.4 L168.3,284.4 L169.2,283.4 L170.1,282.4 L171,281.4 L172,280.5 L172.9,279.6 L173.8,278.7 L174.7,277.8 L175.7,277 L176.6,276.1 L177.5,275.3 L178.4,274.4 L179.3,273.6 L180.3,272.9 L181.2,272.1 L182.1,271.4 L183,270.7 L184,270 L184.9,269.4 L185.8,268.7 L186.7,268.2 L187.7,267.6 L188.6,267 L189.5,266.5 L190.4,266 L191.3,265.4 L192.3,264.9 L193.2,264.4 L194.1,263.9 L195,263.4 L196,263 L196.9,262.5 L197.8,262 L198.7,261.6 L199.7,261.1 L200.6,260.7 L201.5,260.2 L202.4,259.8 L203.4,259.4 L204.3,259.1 L205.2,258.7 L206.1,258.3 L207,257.9 L208,257.6 L208.9,257.2 L209.8,256.9 L210.7,256.6 L211.7,256.3 L212.6,256 L213.5,255.8 L214.4,255.5 L215.4,255.3 L216.3,255.1 L217.2,254.9 L218.1,254.7 L219,254.5 L220,254.3 L220.9,254.1 L221.8,253.9 L222.7,253.7 L223.7,253.5 L224.6,253.3" fill="none" stroke="#1010d0" stroke-width="1.5"/>
<circle cx="85.4" cy="350.7" r="2.3" fill="#1010d0"/>
<circle cx="104.7" cy="323.8" r="2.3" fill="#1010d0"/>
<circle cx="124" cy="303.1" r="2.3" fill="#1010d0"/>
<circle cx="143.4" cy="286.6" r="2.3" fill="#1010d0"/>
<circle cx="162.7" cy="275.1" r="2.3" fill="#1010d0"/>
<circle cx="182" cy="265.6" r="2.3" fill="#1010d0"/>
<circle cx="201.3" cy="258.5" r="2.3" fill="#1010d0"/>
<circle cx="220.6" cy="254.1" r="2.3" fill="#1010d0"/>
<circle cx="222.7" cy="255.8" r="2.3" fill="#1010d0"/>
<circle cx="203.4" cy="283.6" r="2.3" fill="#1010d0"/>
<circle cx="184.1" cy="305.8" r="2.3" fill="#1010d0"/>
<circle cx="164.8" cy="323.3" r="2.3" fill="#1010d0"/>
<circle cx="145.5" cy="335.9" r="2.3" fill="#1010d0"/>
<circle cx="126.2" cy="345.9" r="2.3" fill="#1010d0"/>
<circle cx="106.8" cy="353.6" r="2.3" fill="#1010d0"/>
<circle cx="87.5" cy="358.5" r="2.3" fill="#1010d0"/>
<circle cx="151.6" cy="306.9" r="2.3" fill="#1010d0"/>
<circle cx="171" cy="281.5" r="2.3" fill="#1010d0"/>
<circle cx="190.3" cy="266" r="2.3" fill="#1010d0"/>
<circle cx="209.6" cy="257" r="2.3" fill="#1010d0"/>
<path d="M319.2,373.9 L320.3,371.9 L321.4,369.9 L322.5,368.1 L323.6,366.5 L324.7,365 L325.8,363.7 L326.9,362.6 L328,361.5 L329.1,360.5 L330.2,359.6 L331.3,358.6 L332.4,357.7 L333.5,356.8 L334.6,355.8 L335.7,354.9 L336.8,353.9 L337.9,352.9 L339,351.9 L340.1,351 L341.2,350 L342.2,349 L343.3,348.1 L344.4,347.1 L345.5,346.1 L346.6,345.2 L347.7,344.2 L348.8,343.3 L349.9,342.3 L351,341.4 L352.1,340.4 L353.2,339.5 L354.3,338.6 L355.4,337.6 L356.5,336.7 L357.6,335.8 L358.7,334.9 L359.8,334.1 L360.9,333.2 L362,332.4 L363.1,331.5 L364.2,330.7 L365.3,329.7 L366.4,328.8 L367.5,327.8 L368.6,326.7 L369.7,325.6 L370.8,324.4 L371.9,323.2 L373,322 L374,320.7 L375.1,319.4 L376.2,318.1 L377.3,316.8 L378.4,315.4 L379.5,313.9 L380.6,312.4 L381.7,310.8 L382.8,309.3 L383.9,307.9 L385,306.6 L386.1,305.5 L387.2,304.4 L388.3,303.4 L389.4,302.4 L390.5,301.5 L391.6,300.7 L392.7,299.8 L393.8,299 L394.9,298.2 L396,297.4 L397.1,296.7 L398.2,295.9 L399.3,295.1 L400.4,294.4 L401.5,293.6 L402.6,292.8 L403.7,292.1 L404.7,291.2 L405.8,290.4 L406.9,289.6 L408,288.9 L409.1,288.1 L410.2,287.3 L411.3,286.6 L412.4,285.8 L413.5,285 L414.6,284.2 L415.7,283.4 L416.8,282.5 L417.9,281.6 L419,280.6 L420.1,279.6 L421.2,278.4 L422.3,277.3 L423.4,276.1 L424.5,274.9 L425.6,273.8 L426.7,272.6 L427.8,271.5 L428.9,270.4 L430,269.4 L431.1,268.4 L432.2,267.4 L433.3,266.4 L434.4,265.3 L435.5,264.4 L436.5,263.4 L437.6,262.5 L438.7,261.7 L439.8,261 L440.9,260.3 L442,259.7 L443.1,259.2 L444.2,258.8 L445.3,258.3 L446.4,257.9 L447.5,257.6 L448.6,257.2 L449.7,256.9 L450.8,256.5 L451.9,256.2 L453,255.8 L454.1,255.3 L455.2,254.9 L456.3,254.3 L457.4,253.8 L458.5,253.1 L459.6,252.4 L460.7,251.7 L461.8,251 L462.9,250.3 L464,249.6 L465.1,248.9 L466.2,248.3 L467.3,247.7 L468.3,247.2 L469.4,246.6 L470.5,246 L471.6,245.5 L472.7,245 L473.8,244.5 L474.9,244 L476,243.5 L477.1,243.1 L478.2,242.6 L479.3,242.2 L480.4,241.8 L481.5,241.4 L482.6,241 L483.7,240.7 L484.8,240.4 L485.9,240.1 L487,239.9 L488.1,239.6 L489.2,239.4 L490.3,239.2 L491.4,239 L492.5,238.8 L493.6,238.7" fill="none" stroke="#000" stroke-width="2.2" stroke-linecap="round" stroke-dasharray="0 3.8"/>
<path d="M316.6,373.9 L317.7,371.9 L318.8,369.9 L319.9,368.1 L321,366.5 L322.1,365 L323.2,363.7 L324.3,362.6 L325.4,361.5 L326.5,360.5 L327.6,359.6 L328.7,358.6 L329.8,357.7 L330.9,356.8 L332,355.8 L333.1,354.9 L334.2,353.9 L335.3,352.9 L336.4,351.9 L337.5,351 L338.6,350 L339.6,349 L340.7,348.1 L341.8,347.1 L342.9,346.1 L344,345.2 L345.1,344.2 L346.2,343.3 L347.3,342.3 L348.4,341.4 L349.5,340.4 L350.6,339.5 L351.7,338.6 L352.8,337.6 L353.9,336.7 L355,335.8 L356.1,334.9 L357.2,334.1 L358.3,333.2 L359.4,332.4 L360.5,331.5 L361.6,330.7 L362.7,329.7 L363.8,328.8 L364.9,327.8 L366,326.7 L367.1,325.6 L368.2,324.4 L369.3,323.2 L370.4,322 L371.4,320.7 L372.5,319.4 L373.6,318.1 L374.7,316.8 L375.8,315.4 L376.9,313.9 L378,312.4 L379.1,310.8 L380.2,309.3 L381.3,307.9 L382.4,306.6 L383.5,305.5 L384.6,304.4 L385.7,303.4 L386.8,302.4 L387.9,301.5 L389,300.7 L390.1,299.8 L391.2,299 L392.3,298.2 L393.4,297.4 L394.5,296.7 L395.6,295.9 L396.7,295.1 L397.8,294.4 L398.9,293.6 L400,292.8 L401.1,292.1 L402.1,291.2 L403.2,290.4 L404.3,289.6 L405.4,288.9 L406.5,288.1 L407.6,287.3 L408.7,286.6 L409.8,285.8 L410.9,285 L412,284.2 L413.1,283.4 L414.2,282.5 L415.3,281.6 L416.4,280.6 L417.5,279.6 L418.6,278.4 L419.7,277.3 L420.8,276.1 L421.9,274.9 L423,273.8 L424.1,272.6 L425.2,271.5 L426.3,270.4 L427.4,269.4 L428.5,268.4 L429.6,267.4 L430.7,266.4 L431.8,265.3 L432.9,264.4 L433.9,263.4 L435,262.5 L436.1,261.7 L437.2,261 L438.3,260.3 L439.4,259.7 L440.5,259.2 L441.6,258.8 L442.7,258.3 L443.8,257.9 L444.9,257.6 L446,257.2 L447.1,256.9 L448.2,256.5 L449.3,256.2 L450.4,255.8 L451.5,255.3 L452.6,254.9 L453.7,254.3 L454.8,253.8 L455.9,253.1 L457,252.4 L458.1,251.7 L459.2,251 L460.3,250.3 L461.4,249.6 L462.5,248.9 L463.6,248.3 L464.7,247.7 L465.7,247.2 L466.8,246.6 L467.9,246 L469,245.5 L470.1,245 L471.2,244.5 L472.3,244 L473.4,243.5 L474.5,243.1 L475.6,242.6 L476.7,242.2 L477.8,241.8 L478.9,241.4 L480,241 L481.1,240.7 L482.2,240.4 L483.3,240.1 L484.4,239.9 L485.5,239.6 L486.6,239.4 L487.7,239.2 L488.8,239 L489.9,238.8 L491,238.7" fill="none" stroke="#000" stroke-width="2.2" stroke-linecap="round" stroke-dasharray="0 13" stroke-dashoffset="5"/>
<path d="M493.6,238.7 L492.5,240.2 L491.4,241.8 L490.3,243.5 L489.2,245.5 L488.1,247.6 L487,249.1 L485.9,250.5 L484.8,251.6 L483.7,252.7 L482.6,253.7 L481.5,254.7 L480.4,255.6 L479.3,256.5 L478.2,257.5 L477.1,258.4 L476,259.5 L474.9,260.7 L473.8,261.9 L472.7,263.3 L471.6,264.7 L470.5,266.1 L469.4,267.6 L468.3,269.2 L467.3,270.8 L466.2,272.4 L465.1,274 L464,275.6 L462.9,277.5 L461.8,279.4 L460.7,281.3 L459.6,283.1 L458.5,284.8 L457.4,286.2 L456.3,287.3 L455.2,288.3 L454.1,289.2 L453,290.1 L451.9,291 L450.8,292.1 L449.7,293.4 L448.6,295 L447.5,296.8 L446.4,298.7 L445.3,300.6 L444.2,302.5 L443.1,304.4 L442,306.4 L440.9,308.1 L439.8,309.3 L438.7,310.3 L437.6,311.1 L436.5,311.8 L435.5,312.4 L434.4,313.1 L433.3,313.7 L432.2,314.4 L431.1,315.2 L430,315.9 L428.9,316.7 L427.8,317.5 L426.7,318.5 L425.6,319.5 L424.5,321 L423.4,322.8 L422.3,324.5 L421.2,325.8 L420.1,326.9 L419,327.9 L417.9,328.7 L416.8,329.6 L415.7,330.3 L414.6,331.1 L413.5,331.8 L412.4,332.6 L411.3,333.2 L410.2,333.9 L409.1,334.5 L408,335.1 L406.9,335.7 L405.8,336.3 L404.7,336.9 L403.7,337.4 L402.6,337.9 L401.5,338.4 L400.4,338.8 L399.3,339.2 L398.2,339.6 L397.1,340 L396,340.4 L394.9,340.8 L393.8,341.1 L392.7,341.4 L391.6,341.8 L390.5,342.1 L389.4,342.6 L388.3,343.1 L387.2,343.8 L386.1,344.5 L385,345.2 L383.9,346 L382.8,346.7 L381.7,347.4 L380.6,348.1 L379.5,348.8 L378.4,349.5 L377.3,350.2 L376.2,351 L375.1,351.7 L374,352.5 L373,353.3 L371.9,354.1 L370.8,354.8 L369.7,355.6 L368.6,356.2 L367.5,356.9 L366.4,357.4 L365.3,357.9 L364.2,358.4 L363.1,358.9 L362,359.3 L360.9,359.7 L359.8,360.1 L358.7,360.5 L357.6,360.9 L356.5,361.3 L355.4,361.7 L354.3,362.1 L353.2,362.5 L352.1,362.9 L351,363.3 L349.9,363.7 L348.8,364 L347.7,364.4 L346.6,364.8 L345.5,365.1 L344.4,365.5 L343.3,365.8 L342.2,366.2 L341.2,366.6 L340.1,366.9 L339,367.3 L337.9,367.6 L336.8,368 L335.7,368.4 L334.6,368.7 L333.5,369.1 L332.4,369.5 L331.3,369.8 L330.2,370.2 L329.1,370.6 L328,370.9 L326.9,371.3 L325.8,371.7 L324.7,372 L323.6,372.4 L322.5,372.8 L321.4,373.1 L320.3,373.5 L319.2,373.9" fill="none" stroke="#000" stroke-width="2.2" stroke-linecap="round" stroke-dasharray="0 3.8"/>
<path d="M496.2,238.7 L495.1,240.2 L494,241.8 L492.9,243.5 L491.8,245.5 L490.7,247.6 L489.6,249.1 L488.5,250.5 L487.4,251.6 L486.3,252.7 L485.2,253.7 L484.1,254.7 L483,255.6 L481.9,256.5 L480.8,257.5 L479.7,258.4 L478.6,259.5 L477.5,260.7 L476.4,261.9 L475.3,263.3 L474.2,264.7 L473.1,266.1 L472,267.6 L470.9,269.2 L469.9,270.8 L468.8,272.4 L467.7,274 L466.6,275.6 L465.5,277.5 L464.4,279.4 L463.3,281.3 L462.2,283.1 L461.1,284.8 L460,286.2 L458.9,287.3 L457.8,288.3 L456.7,289.2 L455.6,290.1 L454.5,291 L453.4,292.1 L452.3,293.4 L451.2,295 L450.1,296.8 L449,298.7 L447.9,300.6 L446.8,302.5 L445.7,304.4 L444.6,306.4 L443.5,308.1 L442.4,309.3 L441.3,310.3 L440.2,311.1 L439.1,311.8 L438.1,312.4 L437,313.1 L435.9,313.7 L434.8,314.4 L433.7,315.2 L432.6,315.9 L431.5,316.7 L430.4,317.5 L429.3,318.5 L428.2,319.5 L427.1,321 L426,322.8 L424.9,324.5 L423.8,325.8 L422.7,326.9 L421.6,327.9 L420.5,328.7 L419.4,329.6 L418.3,330.3 L417.2,331.1 L416.1,331.8 L415,332.6 L413.9,333.2 L412.8,333.9 L411.7,334.5 L410.6,335.1 L409.5,335.7 L408.4,336.3 L407.3,336.9 L406.3,337.4 L405.2,337.9 L404.1,338.4 L403,338.8 L401.9,339.2 L400.8,339.6 L399.7,340 L398.6,340.4 L397.5,340.8 L396.4,341.1 L395.3,341.4 L394.2,341.8 L393.1,342.1 L392,342.6 L390.9,343.1 L389.8,343.8 L388.7,344.5 L387.6,345.2 L386.5,346 L385.4,346.7 L384.3,347.4 L383.2,348.1 L382.1,348.8 L381,349.5 L379.9,350.2 L378.8,351 L377.7,351.7 L376.6,352.5 L375.6,353.3 L374.5,354.1 L373.4,354.8 L372.3,355.6 L371.2,356.2 L370.1,356.9 L369,357.4 L367.9,357.9 L366.8,358.4 L365.7,358.9 L364.6,359.3 L363.5,359.7 L362.4,360.1 L361.3,360.5 L360.2,360.9 L359.1,361.3 L358,361.7 L356.9,362.1 L355.8,362.5 L354.7,362.9 L353.6,363.3 L352.5,363.7 L351.4,364 L350.3,364.4 L349.2,364.8 L348.1,365.1 L347,365.5 L345.9,365.8 L344.8,366.2 L343.8,366.6 L342.7,366.9 L341.6,367.3 L340.5,367.6 L339.4,368 L338.3,368.4 L337.2,368.7 L336.1,369.1 L335,369.5 L333.9,369.8 L332.8,370.2 L331.7,370.6 L330.6,370.9 L329.5,371.3 L328.4,371.7 L327.3,372 L326.2,372.4 L325.1,372.8 L324,373.1 L322.9,373.5 L321.8,373.9" fill="none" stroke="#000" stroke-width="2.2" stroke-linecap="round" stroke-dasharray="0 13" stroke-dashoffset="5"/>
<path d="M323.7,378.5 L324.7,376.4 L325.8,374 L326.9,371.4 L327.9,368.5 L329,365.5 L330.1,362.2 L331.1,358.5 L332.2,354.4 L333.3,350.3 L334.3,346.2 L335.4,342.3 L336.5,338.3 L337.6,334.4 L338.6,330.7 L339.7,327.4 L340.8,324.2 L341.8,321.3 L342.9,318.5 L344,316 L345,313.9 L346.1,312 L347.2,310.3 L348.2,308.8 L349.3,307.4 L350.4,306 L351.4,304.5 L352.5,303 L353.6,301.2 L354.7,299.2 L355.7,296.9 L356.8,294.4 L357.9,292 L358.9,289.6 L360,287.5 L361.1,285.6 L362.1,283.8 L363.2,282.1 L364.3,280.3 L365.3,278.7 L366.4,277.1 L367.5,275.5 L368.5,274 L369.6,272.6 L370.7,271.2 L371.7,269.9 L372.8,268.7 L373.9,267.6 L375,266.5 L376,265.5 L377.1,264.6 L378.2,263.7 L379.2,262.8 L380.3,262 L381.4,261.2 L382.4,260.5 L383.5,259.7 L384.6,259 L385.6,258.4 L386.7,257.7 L387.8,257.1 L388.8,256.4 L389.9,255.8 L391,255.2 L392.1,254.6 L393.1,254 L394.2,253.4 L395.3,252.8 L396.3,252.2 L397.4,251.6 L398.5,251.1 L399.5,250.5 L400.6,250 L401.7,249.4 L402.7,248.9 L403.8,248.4 L404.9,247.9 L405.9,247.4 L407,246.9 L408.1,246.5 L409.2,246 L410.2,245.6 L411.3,245.2 L412.4,244.8 L413.4,244.4 L414.5,244.1 L415.6,243.7 L416.6,243.4 L417.7,243.1 L418.8,242.8 L419.8,242.5 L420.9,242.2 L422,242 L423,241.7 L424.1,241.4 L425.2,241.2 L426.2,241 L427.3,240.7 L428.4,240.5 L429.5,240.3 L430.5,240.1 L431.6,239.8 L432.7,239.6 L433.7,239.5 L434.8,239.3 L435.9,239.1 L436.9,238.9 L438,238.7 L439.1,238.6 L440.1,238.4 L441.2,238.3 L442.3,238.1 L443.3,238 L444.4,237.8 L445.5,237.7 L446.6,237.6 L447.6,237.5 L448.7,237.3 L449.8,237.2 L450.8,237.1 L451.9,237 L453,236.9 L454,236.8 L455.1,236.7 L456.2,236.6 L457.2,236.6 L458.3,236.5 L459.4,236.4 L460.4,236.3 L461.5,236.2 L462.6,236.1 L463.6,236 L464.7,235.9 L465.8,235.9 L466.9,235.8 L467.9,235.7 L469,235.7 L470.1,235.6 L471.1,235.6 L472.2,235.6 L473.3,235.5 L474.3,235.5 L475.4,235.5 L476.5,235.5 L477.5,235.6 L478.6,235.6 L479.7,235.7 L480.7,235.8 L481.8,235.9 L482.9,236 L484,236.1 L485,236.3 L486.1,236.4 L487.2,236.6 L488.2,236.8 L489.3,237 L490.4,237.2 L491.4,237.4 L492.5,237.6 L493.6,237.8 L492.5,242.6 L491.4,246.9 L490.4,250.9 L489.3,254.6 L488.2,258 L487.2,261.5 L486.1,264.9 L485,268.2 L484,271.4 L482.9,274.5 L481.8,277.4 L480.7,280.4 L479.7,283.2 L478.6,285.8 L477.5,288.3 L476.5,290.6 L475.4,292.8 L474.3,294.8 L473.3,296.7 L472.2,298.6 L471.1,300.4 L470.1,302.4 L469,304.4 L467.9,306.5 L466.9,308.7 L465.8,310.8 L464.7,313 L463.6,315.1 L462.6,317.2 L461.5,319.2 L460.4,321.1 L459.4,323.1 L458.3,324.9 L457.2,326.7 L456.2,328.5 L455.1,330.2 L454,331.8 L453,333.3 L451.9,334.8 L450.8,336.3 L449.8,337.7 L448.7,339.1 L447.6,340.5 L446.6,341.8 L445.5,343.1 L444.4,344.2 L443.3,345.4 L442.3,346.4 L441.2,347.4 L440.1,348.3 L439.1,349.2 L438,350.1 L436.9,350.9 L435.9,351.7 L434.8,352.5 L433.7,353.2 L432.7,353.9 L431.6,354.7 L430.5,355.4 L429.5,356 L428.4,356.7 L427.3,357.4 L426.2,358.1 L425.2,358.7 L424.1,359.4 L423,360.1 L422,360.8 L420.9,361.4 L419.8,362.1 L418.8,362.7 L417.7,363.4 L416.6,364 L415.6,364.5 L414.5,365 L413.4,365.5 L412.4,366 L411.3,366.5 L410.2,367 L409.2,367.5 L408.1,368 L407,368.5 L405.9,369 L404.9,369.4 L403.8,369.9 L402.7,370.3 L401.7,370.8 L400.6,371.2 L399.5,371.6 L398.5,372 L397.4,372.4 L396.3,372.7 L395.3,373 L394.2,373.4 L393.1,373.7 L392.1,373.9 L391,374.2 L389.9,374.4 L388.8,374.6 L387.8,374.8 L386.7,374.9 L385.6,375.1 L384.6,375.3 L383.5,375.4 L382.4,375.6 L381.4,375.7 L380.3,375.8 L379.2,376 L378.2,376.1 L377.1,376.2 L376,376.4 L375,376.5 L373.9,376.6 L372.8,376.7 L371.7,376.8 L370.7,376.9 L369.6,377 L368.5,377.1 L367.5,377.2 L366.4,377.3 L365.3,377.4 L364.3,377.5 L363.2,377.6 L362.1,377.7 L361.1,377.7 L360,377.8 L358.9,377.9 L357.9,377.9 L356.8,378 L355.7,378 L354.7,378.1 L353.6,378.1 L352.5,378.2 L351.4,378.2 L350.4,378.2 L349.3,378.3 L348.2,378.3 L347.2,378.3 L346.1,378.4 L345,378.4 L344,378.4 L342.9,378.5 L341.8,378.5 L340.8,378.5 L339.7,378.6 L338.6,378.6 L337.6,378.6 L336.5,378.6 L335.4,378.7 L334.3,378.7 L333.3,378.7 L332.2,378.7 L331.1,378.7 L330.1,378.7 L329,378.8 L327.9,378.8 L326.9,378.8 L325.8,378.8 L324.7,378.8 L323.7,378.8" fill="none" stroke="#1ee01e" stroke-width="1.3" stroke-dasharray="4.5 1.5 1.5 1.5"/>
<rect x="324.9" y="369.1" width="4.2" height="4.2" fill="#1ee01e"/>
<rect x="329.5" y="354.6" width="4.2" height="4.2" fill="#1ee01e"/>
<rect x="333.3" y="340.2" width="4.2" height="4.2" fill="#1ee01e"/>
<rect x="337.4" y="325.8" width="4.2" height="4.2" fill="#1ee01e"/>
<rect x="343.1" y="311.4" width="4.2" height="4.2" fill="#1ee01e"/>
<rect x="352.5" y="297.1" width="4.2" height="4.2" fill="#1ee01e"/>
<rect x="359.4" y="282.7" width="4.2" height="4.2" fill="#1ee01e"/>
<rect x="369.1" y="268.4" width="4.2" height="4.2" fill="#1ee01e"/>
<rect x="386.5" y="254.5" width="4.2" height="4.2" fill="#1ee01e"/>
<rect x="414.5" y="241.3" width="4.2" height="4.2" fill="#1ee01e"/>
<rect x="470.6" y="233.4" width="4.2" height="4.2" fill="#1ee01e"/>
<rect x="489.9" y="242.6" width="4.2" height="4.2" fill="#1ee01e"/>
<rect x="485.8" y="257" width="4.2" height="4.2" fill="#1ee01e"/>
<rect x="481.1" y="271.4" width="4.2" height="4.2" fill="#1ee01e"/>
<rect x="475.6" y="285.8" width="4.2" height="4.2" fill="#1ee01e"/>
<rect x="468" y="300.2" width="4.2" height="4.2" fill="#1ee01e"/>
<rect x="460.8" y="314.5" width="4.2" height="4.2" fill="#1ee01e"/>
<rect x="452.5" y="328.9" width="4.2" height="4.2" fill="#1ee01e"/>
<rect x="441.4" y="343.1" width="4.2" height="4.2" fill="#1ee01e"/>
<rect x="422.5" y="357" width="4.2" height="4.2" fill="#1ee01e"/>
<rect x="395.3" y="370.3" width="4.2" height="4.2" fill="#1ee01e"/>
<rect x="335.5" y="376.5" width="4.2" height="4.2" fill="#1ee01e"/>
<path d="M319.2,374.4 L320.3,371.6 L321.4,368.7 L322.5,366 L323.6,363.3 L324.7,360.7 L325.8,358.2 L326.9,355.8 L328,353.5 L329.2,351.5 L330.3,349.5 L331.4,347.6 L332.5,345.8 L333.6,344.1 L334.7,342.5 L335.8,340.9 L336.9,339.3 L338,337.8 L339.1,336.3 L340.2,334.9 L341.3,333.4 L342.4,332 L343.5,330.6 L344.6,329.1 L345.7,327.7 L346.8,326.2 L347.9,324.7 L349,323.2 L350.1,321.7 L351.2,320.2 L352.3,318.8 L353.4,317.4 L354.5,315.9 L355.6,314.5 L356.7,313.1 L357.8,311.7 L358.9,310.2 L360.1,308.8 L361.2,307.4 L362.3,305.9 L363.4,304.5 L364.5,303 L365.6,301.6 L366.7,300.1 L367.8,298.5 L368.9,296.9 L370,295.4 L371.1,293.8 L372.2,292.2 L373.3,290.6 L374.4,289 L375.5,287.5 L376.6,286 L377.7,284.5 L378.8,283.1 L379.9,281.7 L381,280.4 L382.1,279.2 L383.2,278 L384.3,276.9 L385.4,275.7 L386.5,274.6 L387.6,273.5 L388.7,272.4 L389.8,271.4 L390.9,270.3 L392.1,269.3 L393.2,268.4 L394.3,267.4 L395.4,266.5 L396.5,265.6 L397.6,264.7 L398.7,263.9 L399.8,263.1 L400.9,262.3 L402,261.6 L403.1,260.8 L404.2,260.1 L405.3,259.4 L406.4,258.7 L407.5,258.1 L408.6,257.4 L409.7,256.8 L410.8,256.2 L411.9,255.6 L413,255 L414.1,254.4 L415.2,253.8 L416.3,253.2 L417.4,252.6 L418.5,252 L419.6,251.4 L420.7,250.8 L421.8,250.2 L423,249.6 L424.1,249 L425.2,248.4 L426.3,247.8 L427.4,247.3 L428.5,246.8 L429.6,246.3 L430.7,245.8 L431.8,245.4 L432.9,245 L434,244.7 L435.1,244.4 L436.2,244.1 L437.3,243.9 L438.4,243.6 L439.5,243.4 L440.6,243.2 L441.7,243 L442.8,242.8 L443.9,242.6 L445,242.4 L446.1,242.3 L447.2,242.1 L448.3,242 L449.4,241.8 L450.5,241.7 L451.6,241.6 L452.7,241.4 L453.8,241.3 L455,241.2 L456.1,241 L457.2,240.9 L458.3,240.8 L459.4,240.7 L460.5,240.6 L461.6,240.5 L462.7,240.4 L463.8,240.3 L464.9,240.3 L466,240.2 L467.1,240.2 L468.2,240.1 L469.3,240.1 L470.4,240.1 L471.5,240.1 L472.6,240.1 L473.7,240 L474.8,240 L475.9,240 L477,240 L478.1,240 L479.2,240 L480.3,239.9 L481.4,239.9 L482.5,239.9 L483.6,239.9 L484.7,239.9 L485.9,239.9 L487,239.9 L488.1,239.9 L489.2,239.9 L490.3,239.9 L491.4,239.9 L492.5,239.9 L493.6,239.9 L494.7,239.9 L493.6,243 L492.5,246 L491.4,248.8 L490.3,251.6 L489.2,254.1 L488.1,256.6 L487,258.8 L485.9,260.9 L484.7,262.9 L483.6,264.6 L482.5,266.2 L481.4,267.6 L480.3,269 L479.2,270.3 L478.1,271.7 L477,273 L475.9,274.4 L474.8,275.8 L473.7,277.1 L472.6,278.4 L471.5,279.6 L470.4,280.9 L469.3,282.2 L468.2,283.5 L467.1,284.7 L466,286 L464.9,287.3 L463.8,288.7 L462.7,290 L461.6,291.4 L460.5,292.8 L459.4,294.3 L458.3,295.8 L457.2,297.4 L456.1,299 L455,300.7 L453.8,302.4 L452.7,304.1 L451.6,305.8 L450.5,307.5 L449.4,309.3 L448.3,311 L447.2,312.7 L446.1,314.3 L445,316 L443.9,317.6 L442.8,319.1 L441.7,320.6 L440.6,322.1 L439.5,323.7 L438.4,325.2 L437.3,326.7 L436.2,328.1 L435.1,329.6 L434,331 L432.9,332.5 L431.8,333.8 L430.7,335.2 L429.6,336.5 L428.5,337.8 L427.4,339 L426.3,340.2 L425.2,341.3 L424.1,342.5 L423,343.6 L421.8,344.6 L420.7,345.7 L419.6,346.7 L418.5,347.8 L417.4,348.7 L416.3,349.7 L415.2,350.6 L414.1,351.6 L413,352.4 L411.9,353.3 L410.8,354.1 L409.7,354.9 L408.6,355.6 L407.5,356.3 L406.4,357 L405.3,357.7 L404.2,358.4 L403.1,359 L402,359.7 L400.9,360.3 L399.8,360.9 L398.7,361.5 L397.6,362.1 L396.5,362.6 L395.4,363.1 L394.3,363.6 L393.2,364.1 L392.1,364.5 L390.9,365 L389.8,365.4 L388.7,365.8 L387.6,366.2 L386.5,366.5 L385.4,366.9 L384.3,367.3 L383.2,367.7 L382.1,368.1 L381,368.4 L379.9,368.8 L378.8,369.1 L377.7,369.5 L376.6,369.8 L375.5,370.1 L374.4,370.5 L373.3,370.8 L372.2,371 L371.1,371.3 L370,371.6 L368.9,371.8 L367.8,372 L366.7,372.2 L365.6,372.4 L364.5,372.6 L363.4,372.7 L362.3,372.8 L361.2,372.9 L360.1,373 L358.9,373.1 L357.8,373.2 L356.7,373.2 L355.6,373.3 L354.5,373.4 L353.4,373.4 L352.3,373.5 L351.2,373.5 L350.1,373.6 L349,373.7 L347.9,373.7 L346.8,373.8 L345.7,373.8 L344.6,373.9 L343.5,373.9 L342.4,374 L341.3,374 L340.2,374 L339.1,374.1 L338,374.1 L336.9,374.2 L335.8,374.2 L334.7,374.2 L333.6,374.3 L332.5,374.3 L331.4,374.3 L330.3,374.3 L329.2,374.4 L328,374.4 L326.9,374.4 L325.8,374.4 L324.7,374.4 L323.6,374.4 L322.5,374.4 L321.4,374.4 L320.3,374.4 L319.2,374.4" fill="none" stroke="#e81818" stroke-width="1.3" stroke-dasharray="3.2 1.8"/>
<path d="M494.1,238.5 L496.8,243.4 L491.4,243.4Z" fill="#e81818"/>
<path d="M476.9,270.3 L479.6,275.1 L474.2,275.1Z" fill="#e81818"/>
<path d="M459.7,291 L462.4,295.8 L457,295.8Z" fill="#e81818"/>
<path d="M442.5,316.7 L445.2,321.5 L439.8,321.5Z" fill="#e81818"/>
<path d="M425.3,338.3 L428,343.2 L422.6,343.2Z" fill="#e81818"/>
<path d="M408.1,353 L410.8,357.9 L405.4,357.9Z" fill="#e81818"/>
<path d="M390.8,362.1 L393.5,366.9 L388.1,366.9Z" fill="#e81818"/>
<path d="M373.6,367.7 L376.3,372.6 L370.9,372.6Z" fill="#e81818"/>
<path d="M356.4,370.3 L359.1,375.2 L353.7,375.2Z" fill="#e81818"/>
<path d="M339.2,371.2 L341.9,376 L336.5,376Z" fill="#e81818"/>
<path d="M322,371.5 L324.7,376.4 L319.3,376.4Z" fill="#e81818"/>
<path d="M329.8,347.4 L332.5,352.3 L327.1,352.3Z" fill="#e81818"/>
<path d="M347,323 L349.7,327.9 L344.3,327.9Z" fill="#e81818"/>
<path d="M364.2,300.5 L366.9,305.3 L361.5,305.3Z" fill="#e81818"/>
<path d="M381.4,277.1 L384.1,281.9 L378.7,281.9Z" fill="#e81818"/>
<path d="M398.6,261 L401.3,265.9 L395.9,265.9Z" fill="#e81818"/>
<path d="M415.8,250.5 L418.5,255.4 L413.1,255.4Z" fill="#e81818"/>
<path d="M433,242 L435.7,246.9 L430.3,246.9Z" fill="#e81818"/>
<path d="M450.3,238.8 L453,243.7 L447.6,243.7Z" fill="#e81818"/>
<path d="M467.5,237.2 L470.2,242.1 L464.8,242.1Z" fill="#e81818"/>
<path d="M484.7,237 L487.4,241.8 L482,241.8Z" fill="#e81818"/>
<path d="M319.2,366.1 L320.3,364.6 L321.4,363.1 L322.6,361.6 L323.7,360.2 L324.8,358.8 L325.9,357.5 L327,356.3 L328.1,355.1 L329.2,353.9 L330.3,352.8 L331.4,351.7 L332.5,350.6 L333.7,349.6 L334.8,348.6 L335.9,347.6 L337,346.6 L338.1,345.6 L339.2,344.6 L340.3,343.7 L341.4,342.7 L342.5,341.7 L343.7,340.8 L344.8,339.8 L345.9,338.8 L347,337.8 L348.1,336.9 L349.2,335.9 L350.3,335 L351.4,334 L352.5,333.1 L353.6,332.2 L354.8,331.2 L355.9,330.3 L357,329.4 L358.1,328.5 L359.2,327.5 L360.3,326.6 L361.4,325.7 L362.5,324.8 L363.6,323.8 L364.8,322.9 L365.9,322 L367,321 L368.1,320.1 L369.2,319.2 L370.3,318.2 L371.4,317.3 L372.5,316.4 L373.6,315.5 L374.7,314.6 L375.9,313.7 L377,312.8 L378.1,311.9 L379.2,311 L380.3,310.2 L381.4,309.4 L382.5,308.5 L383.6,307.7 L384.7,306.9 L385.9,306.1 L387,305.3 L388.1,304.5 L389.2,303.7 L390.3,302.9 L391.4,302.1 L392.5,301.4 L393.6,300.6 L394.7,299.8 L395.8,299.1 L397,298.3 L398.1,297.6 L399.2,296.8 L400.3,296.1 L401.4,295.4 L402.5,294.6 L403.6,293.9 L404.7,293.2 L405.8,292.5 L406.9,291.8 L408.1,291.1 L409.2,290.4 L410.3,289.6 L411.4,288.9 L412.5,288.2 L413.6,287.5 L414.7,286.8 L415.8,286.1 L416.9,285.3 L418.1,284.6 L419.2,283.9 L420.3,283.1 L421.4,282.4 L422.5,281.7 L423.6,281 L424.7,280.3 L425.8,279.6 L426.9,278.9 L428,278.2 L429.2,277.5 L430.3,276.8 L431.4,276.2 L432.5,275.5 L433.6,274.9 L434.7,274.2 L435.8,273.6 L436.9,272.9 L438,272.3 L439.2,271.7 L440.3,271.1 L441.4,270.4 L442.5,269.8 L443.6,269.3 L444.7,268.7 L445.8,268.1 L446.9,267.5 L448,267 L449.1,266.5 L450.3,265.9 L451.4,265.4 L452.5,264.9 L453.6,264.4 L454.7,263.9 L455.8,263.4 L456.9,263 L458,262.5 L459.1,262 L460.3,261.6 L461.4,261.1 L462.5,260.7 L463.6,260.2 L464.7,259.8 L465.8,259.3 L466.9,258.9 L468,258.5 L469.1,258.1 L470.2,257.7 L471.4,257.3 L472.5,256.9 L473.6,256.5 L474.7,256.1 L475.8,255.7 L476.9,255.3 L478,254.9 L479.1,254.5 L480.2,254.1 L481.4,253.7 L482.5,253.3 L483.6,252.9 L484.7,252.4 L485.8,252 L486.9,251.6 L488,251.1 L489.1,250.7 L490.2,250.2 L491.3,249.8 L492.5,249.3 L493.6,248.9 L494.7,248.4 L495.8,247.9 L494.7,248.8 L493.6,249.7 L492.5,250.6 L491.3,251.5 L490.2,252.5 L489.1,253.5 L488,254.4 L486.9,255.4 L485.8,256.5 L484.7,257.5 L483.6,258.6 L482.5,259.6 L481.4,260.7 L480.2,261.8 L479.1,263 L478,264.1 L476.9,265.3 L475.8,266.6 L474.7,268 L473.6,269.3 L472.5,270.7 L471.4,272.1 L470.2,273.5 L469.1,274.9 L468,276.2 L466.9,277.5 L465.8,278.8 L464.7,280.1 L463.6,281.2 L462.5,282.3 L461.4,283.3 L460.3,284.3 L459.1,285.3 L458,286.3 L456.9,287.2 L455.8,288.1 L454.7,289 L453.6,289.9 L452.5,290.7 L451.4,291.5 L450.3,292.4 L449.1,293.2 L448,294 L446.9,294.8 L445.8,295.6 L444.7,296.4 L443.6,297.1 L442.5,297.9 L441.4,298.6 L440.3,299.3 L439.2,300 L438,300.7 L436.9,301.4 L435.8,302.1 L434.7,302.8 L433.6,303.5 L432.5,304.2 L431.4,304.9 L430.3,305.7 L429.2,306.4 L428,307.1 L426.9,307.9 L425.8,308.7 L424.7,309.5 L423.6,310.4 L422.5,311.2 L421.4,312.1 L420.3,312.9 L419.2,313.8 L418.1,314.6 L416.9,315.5 L415.8,316.3 L414.7,317.1 L413.6,317.8 L412.5,318.6 L411.4,319.3 L410.3,320 L409.2,320.6 L408.1,321.2 L406.9,321.8 L405.8,322.4 L404.7,323 L403.6,323.5 L402.5,324.1 L401.4,324.6 L400.3,325.2 L399.2,325.8 L398.1,326.3 L397,326.9 L395.8,327.5 L394.7,328.2 L393.6,328.8 L392.5,329.5 L391.4,330.2 L390.3,331 L389.2,331.8 L388.1,332.6 L387,333.4 L385.9,334.2 L384.7,335 L383.6,335.8 L382.5,336.7 L381.4,337.4 L380.3,338.2 L379.2,339 L378.1,339.7 L377,340.4 L375.9,341 L374.7,341.7 L373.6,342.3 L372.5,342.9 L371.4,343.5 L370.3,344.1 L369.2,344.7 L368.1,345.3 L367,345.9 L365.9,346.4 L364.8,347 L363.6,347.5 L362.5,348 L361.4,348.5 L360.3,349 L359.2,349.5 L358.1,350 L357,350.5 L355.9,350.9 L354.8,351.4 L353.6,351.8 L352.5,352.3 L351.4,352.7 L350.3,353.1 L349.2,353.6 L348.1,354 L347,354.4 L345.9,354.8 L344.8,355.2 L343.7,355.6 L342.5,356 L341.4,356.3 L340.3,356.7 L339.2,357 L338.1,357.3 L337,357.6 L335.9,357.9 L334.8,358.2 L333.7,358.5 L332.5,358.8 L331.4,359.1 L330.3,359.4 L329.2,359.8 L328.1,360.2 L327,360.7 L325.9,361.2 L324.8,361.8 L323.7,362.5 L322.6,363.3 L321.4,364.2 L320.3,365.1 L319.2,366.1" fill="none" stroke="#1010d0" stroke-width="1.5"/>
<path d="M406.9,307 L408.1,305.5 L409.2,304 L410.3,302.7 L411.4,301.4 L412.6,300.3 L413.7,299.2 L414.8,298.2 L415.9,297.2 L417.1,296.2 L418.2,295.2 L419.3,294.2 L420.4,293.2 L421.6,292.3 L422.7,291.3 L423.8,290.3 L424.9,289.4 L426.1,288.5 L427.2,287.5 L428.3,286.6 L429.4,285.7 L430.6,284.7 L431.7,283.8 L432.8,282.8 L433.9,281.9 L435.1,281 L436.2,280.1 L437.3,279.2 L438.4,278.4 L439.6,277.5 L440.7,276.7 L441.8,275.9 L442.9,275.1 L444.1,274.3 L445.2,273.6 L446.3,272.8 L447.4,272 L448.6,271.3 L449.7,270.6 L450.8,269.9 L451.9,269.1 L453.1,268.4 L454.2,267.7 L455.3,267 L456.4,266.2 L457.6,265.5 L458.7,264.8 L459.8,264 L460.9,263.3 L462.1,262.6 L463.2,262 L464.3,261.3 L465.4,260.7 L466.6,260 L467.7,259.4 L468.8,258.8 L469.9,258.2 L471,257.6 L472.2,257.1 L473.3,256.6 L474.4,256.1 L475.5,255.6 L476.7,255.1 L477.8,254.6 L478.9,254.2 L480,253.7 L481.2,253.3 L482.3,252.9 L483.4,252.5 L484.5,252.1 L485.7,251.7 L486.8,251.3 L487.9,250.9 L489,250.4 L490.2,250 L491.3,249.5 L492.4,249.1 L493.5,248.6 L494.7,248.2 L495.8,247.9" fill="none" stroke="#1010d0" stroke-width="1.5"/>
<circle cx="327.8" cy="355.4" r="2.3" fill="#1010d0"/>
<circle cx="345.1" cy="339.5" r="2.3" fill="#1010d0"/>
<circle cx="362.4" cy="324.9" r="2.3" fill="#1010d0"/>
<circle cx="379.7" cy="310.6" r="2.3" fill="#1010d0"/>
<circle cx="397.1" cy="298.2" r="2.3" fill="#1010d0"/>
<circle cx="414.4" cy="287" r="2.3" fill="#1010d0"/>
<circle cx="431.7" cy="276" r="2.3" fill="#1010d0"/>
<circle cx="449" cy="266.5" r="2.3" fill="#1010d0"/>
<circle cx="466.4" cy="259.1" r="2.3" fill="#1010d0"/>
<circle cx="483.7" cy="252.8" r="2.3" fill="#1010d0"/>
<circle cx="480.8" cy="261.3" r="2.3" fill="#1010d0"/>
<circle cx="463.5" cy="281.3" r="2.3" fill="#1010d0"/>
<circle cx="446.2" cy="295.4" r="2.3" fill="#1010d0"/>
<circle cx="428.8" cy="306.6" r="2.3" fill="#1010d0"/>
<circle cx="411.5" cy="319.2" r="2.3" fill="#1010d0"/>
<circle cx="394.2" cy="328.5" r="2.3" fill="#1010d0"/>
<circle cx="376.9" cy="340.4" r="2.3" fill="#1010d0"/>
<circle cx="359.5" cy="349.4" r="2.3" fill="#1010d0"/>
<circle cx="342.2" cy="356.1" r="2.3" fill="#1010d0"/>
<circle cx="324.9" cy="361.7" r="2.3" fill="#1010d0"/>
<circle cx="406.9" cy="307" r="2.3" fill="#1010d0"/>
<circle cx="424.3" cy="290" r="2.3" fill="#1010d0"/>
<circle cx="441.6" cy="276.1" r="2.3" fill="#1010d0"/>
<circle cx="458.9" cy="264.6" r="2.3" fill="#1010d0"/>
<circle cx="476.2" cy="255.3" r="2.3" fill="#1010d0"/>
<circle cx="493.6" cy="248.6" r="2.3" fill="#1010d0"/>
<path d="M39.8,189.7h3.2 M39.8,160.8h3.2 M39.8,131.9h3.2 M39.8,103h3.2 M39.8,74.2h3.2 M39.8,45.3h3.2 M39.8,16.4h3.2 M39.8,175.3h1.8 M39.8,146.4h1.8 M39.8,117.5h1.8 M39.8,88.6h1.8 M39.8,59.7h1.8 M39.8,30.8h1.8 M62,189.7v-3.2 M106.5,189.7v-3.2 M150.9,189.7v-3.2 M195.3,189.7v-3.2 M239.8,189.7v-3.2 M84.2,189.7v-1.8 M128.7,189.7v-1.8 M173.1,189.7v-1.8 M217.6,189.7v-1.8" stroke="#000" stroke-width="1.1" fill="none"/>
<rect x="39.8" y="16.4" width="222.2" height="173.3" fill="none" stroke="#000" stroke-width="1.7"/>
<text x="37" y="193.2" text-anchor="end" class="tl">-300</text>
<text x="37" y="164.3" text-anchor="end" class="tl">-200</text>
<text x="37" y="135.4" text-anchor="end" class="tl">-100</text>
<text x="37" y="106.5" text-anchor="end" class="tl">0</text>
<text x="37" y="77.7" text-anchor="end" class="tl">100</text>
<text x="37" y="48.8" text-anchor="end" class="tl">200</text>
<text x="37" y="19.9" text-anchor="end" class="tl">300</text>
<text x="62" y="200.8" text-anchor="middle" class="tl">-4</text>
<text x="106.5" y="200.8" text-anchor="middle" class="tl">-2</text>
<text x="150.9" y="200.8" text-anchor="middle" class="tl">0</text>
<text x="195.3" y="200.8" text-anchor="middle" class="tl">2</text>
<text x="239.8" y="200.8" text-anchor="middle" class="tl">4</text>
<path d="M295.7,189.7h3.2 M295.7,160.8h3.2 M295.7,131.9h3.2 M295.7,103h3.2 M295.7,74.1h3.2 M295.7,45.2h3.2 M295.7,16.3h3.2 M295.7,175.2h1.8 M295.7,146.3h1.8 M295.7,117.4h1.8 M295.7,88.5h1.8 M295.7,59.7h1.8 M295.7,30.8h1.8 M317.9,189.7v-3.2 M362.4,189.7v-3.2 M406.9,189.7v-3.2 M451.3,189.7v-3.2 M495.8,189.7v-3.2 M340.2,189.7v-1.8 M384.6,189.7v-1.8 M429.1,189.7v-1.8 M473.5,189.7v-1.8" stroke="#000" stroke-width="1.1" fill="none"/>
<rect x="295.7" y="16.3" width="222.3" height="173.4" fill="none" stroke="#000" stroke-width="1.7"/>
<text x="292.9" y="193.2" text-anchor="end" class="tl">-300</text>
<text x="292.9" y="164.3" text-anchor="end" class="tl">-200</text>
<text x="292.9" y="135.4" text-anchor="end" class="tl">-100</text>
<text x="292.9" y="106.5" text-anchor="end" class="tl">0</text>
<text x="292.9" y="77.6" text-anchor="end" class="tl">100</text>
<text x="292.9" y="48.7" text-anchor="end" class="tl">200</text>
<text x="292.9" y="19.8" text-anchor="end" class="tl">300</text>
<text x="317.9" y="200.8" text-anchor="middle" class="tl">-4</text>
<text x="362.4" y="200.8" text-anchor="middle" class="tl">-2</text>
<text x="406.9" y="200.8" text-anchor="middle" class="tl">0</text>
<text x="451.3" y="200.8" text-anchor="middle" class="tl">2</text>
<text x="495.8" y="200.8" text-anchor="middle" class="tl">4</text>
<path d="M40.3,393.5h3.2 M40.3,364.6h3.2 M40.3,335.7h3.2 M40.3,306.8h3.2 M40.3,277.9h3.2 M40.3,249h3.2 M40.3,220.1h3.2 M40.3,379.1h1.8 M40.3,350.1h1.8 M40.3,321.2h1.8 M40.3,292.4h1.8 M40.3,263.4h1.8 M40.3,234.6h1.8 M96,393.5v-3.2 M151.6,393.5v-3.2 M207.3,393.5v-3.2 M68.1,393.5v-1.8 M123.8,393.5v-1.8 M179.5,393.5v-1.8 M235.2,393.5v-1.8" stroke="#000" stroke-width="1.1" fill="none"/>
<rect x="40.3" y="220.1" width="222.7" height="173.4" fill="none" stroke="#000" stroke-width="1.7"/>
<text x="37.5" y="397" text-anchor="end" class="tl">-300</text>
<text x="37.5" y="368.1" text-anchor="end" class="tl">-200</text>
<text x="37.5" y="339.2" text-anchor="end" class="tl">-100</text>
<text x="37.5" y="310.3" text-anchor="end" class="tl">0</text>
<text x="37.5" y="281.4" text-anchor="end" class="tl">100</text>
<text x="37.5" y="252.5" text-anchor="end" class="tl">200</text>
<text x="37.5" y="223.6" text-anchor="end" class="tl">300</text>
<text x="96" y="404.6" text-anchor="middle" class="tl">-1</text>
<text x="151.6" y="404.6" text-anchor="middle" class="tl">0</text>
<text x="207.3" y="404.6" text-anchor="middle" class="tl">1</text>
<path d="M295.9,393.8h3.2 M295.9,364.9h3.2 M295.9,336h3.2 M295.9,307.1h3.2 M295.9,278.3h3.2 M295.9,249.4h3.2 M295.9,220.5h3.2 M295.9,379.4h1.8 M295.9,350.5h1.8 M295.9,321.6h1.8 M295.9,292.7h1.8 M295.9,263.8h1.8 M295.9,234.9h1.8 M351.4,393.8v-3.2 M406.9,393.8v-3.2 M462.5,393.8v-3.2 M323.7,393.8v-1.8 M379.2,393.8v-1.8 M434.7,393.8v-1.8 M490.2,393.8v-1.8" stroke="#000" stroke-width="1.1" fill="none"/>
<rect x="295.9" y="220.5" width="222.1" height="173.3" fill="none" stroke="#000" stroke-width="1.7"/>
<text x="293.1" y="397.3" text-anchor="end" class="tl">-300</text>
<text x="293.1" y="368.4" text-anchor="end" class="tl">-200</text>
<text x="293.1" y="339.5" text-anchor="end" class="tl">-100</text>
<text x="293.1" y="310.6" text-anchor="end" class="tl">0</text>
<text x="293.1" y="281.8" text-anchor="end" class="tl">100</text>
<text x="293.1" y="252.9" text-anchor="end" class="tl">200</text>
<text x="293.1" y="224" text-anchor="end" class="tl">300</text>
<text x="351.4" y="404.9" text-anchor="middle" class="tl">-0.5</text>
<text x="406.9" y="404.9" text-anchor="middle" class="tl">0.0</text>
<text x="462.5" y="404.9" text-anchor="middle" class="tl">0.5</text>
<text x="232" y="175.2" class="t" style="font-size:13.5px;letter-spacing:0.7px;stroke:#000;stroke-width:0.1px">(a)</text>
<text x="488" y="175.2" class="t" style="font-size:13.5px;letter-spacing:0.7px;stroke:#000;stroke-width:0.1px">(b)</text>
<text x="233" y="379.9" class="t" style="font-size:13.5px;letter-spacing:0.7px;stroke:#000;stroke-width:0.1px">(c)</text>
<text x="488" y="380.2" class="t" style="font-size:13.5px;letter-spacing:0.7px;stroke:#000;stroke-width:0.1px">(d)</text>
<text x="101.9" y="8.7" class="t tw" style="font-size:12px" font-style="italic">N</text>
<text x="112.9" y="8.7" class="t tw" style="font-size:12px" >=</text>
<text x="122.2" y="8.7" class="t tw" style="font-size:12px" >234N</text>
<text x="155.8" y="8.7" class="t tw" style="font-size:12px" font-style="italic">A</text>
<text x="163.1" y="11.7" class="t tw" style="font-size:10px" font-style="italic">u</text>
<text x="168.6" y="8.7" class="t tw" style="font-size:12px" >=</text>
<text x="178.7" y="8.7" class="t tw" style="font-size:12px" >4.26</text>
<text x="200.3" y="8.7" class="t tw" style="font-size:12px" font-style="italic">μ</text>
<text x="206.1" y="8.7" class="t tw" style="font-size:12px" >m</text>
<text x="357.5" y="8.7" class="t tw" style="font-size:12px" font-style="italic">N</text>
<text x="368.5" y="8.7" class="t tw" style="font-size:12px" >=</text>
<text x="377.8" y="8.7" class="t tw" style="font-size:12px" >331N</text>
<text x="411.4" y="8.7" class="t tw" style="font-size:12px" font-style="italic">A</text>
<text x="418.7" y="11.7" class="t tw" style="font-size:10px" font-style="italic">u</text>
<text x="424.2" y="8.7" class="t tw" style="font-size:12px" >=</text>
<text x="434.3" y="8.7" class="t tw" style="font-size:12px" >2.69</text>
<text x="455.9" y="8.7" class="t tw" style="font-size:12px" font-style="italic">μ</text>
<text x="461.7" y="8.7" class="t tw" style="font-size:12px" >m</text>
<text x="102.8" y="212.4" class="t tw" style="font-size:12px" font-style="italic">N</text>
<text x="113.8" y="212.4" class="t tw" style="font-size:12px" >=</text>
<text x="123.1" y="212.4" class="t tw" style="font-size:12px" >526N</text>
<text x="156.7" y="212.4" class="t tw" style="font-size:12px" font-style="italic">A</text>
<text x="164" y="215.4" class="t tw" style="font-size:10px" font-style="italic">u</text>
<text x="169.5" y="212.4" class="t tw" style="font-size:12px" >=</text>
<text x="179.6" y="212.4" class="t tw" style="font-size:12px" >1.32</text>
<text x="201.2" y="212.4" class="t tw" style="font-size:12px" font-style="italic">μ</text>
<text x="207" y="212.4" class="t tw" style="font-size:12px" >m</text>
<text x="358.4" y="212.4" class="t tw" style="font-size:12px" font-style="italic">N</text>
<text x="369.4" y="212.4" class="t tw" style="font-size:12px" >=</text>
<text x="378.7" y="212.4" class="t tw" style="font-size:12px" >721N</text>
<text x="412.3" y="212.4" class="t tw" style="font-size:12px" font-style="italic">A</text>
<text x="419.6" y="215.4" class="t tw" style="font-size:10px" font-style="italic">u</text>
<text x="425.1" y="212.4" class="t tw" style="font-size:12px" >=</text>
<text x="435.2" y="212.4" class="t tw" style="font-size:12px" >0.79</text>
<text x="456.8" y="212.4" class="t tw" style="font-size:12px" font-style="italic">μ</text>
<text x="462.6" y="212.4" class="t tw" style="font-size:12px" >m</text>
<text x="198" y="417" class="t tw" style="font-size:13px" textLength="165" lengthAdjust="spacingAndGlyphs">Tangential Displacement, <tspan font-style="italic">u</tspan> (<tspan font-style="italic">μ</tspan>m)</text>
<text transform="translate(10.3,262.2) rotate(-90)" class="t tw" style="font-size:13px" textLength="122" lengthAdjust="spacingAndGlyphs">Tangential Force, <tspan font-style="italic">T</tspan> (N)</text>
<path d="M46.9,25.9H67.7" stroke="#1ee01e" stroke-width="1.3" stroke-dasharray="4.5 1.5 1.5 1.5"/>
<rect x="55.9" y="23.8" width="4.2" height="4.2" fill="#1ee01e"/>
<text x="70" y="29.0" class="t tw" style="font-size:9px">EPB model</text>
<path d="M131,25.9H152.3" stroke="#e81818" stroke-width="1.3" stroke-dasharray="3.2 1.8"/>
<path d="M141.9,23 L144.6,27.8 L139.2,27.8Z" fill="#e81818"/>
<text x="154.2" y="29.0" class="t tw" style="font-size:9px">ZH model</text>
<path d="M46.9,37.2H68.5" stroke="#1010d0" stroke-width="1.5"/>
<circle cx="58" cy="37.2" r="2.5" fill="#1010d0"/>
<text x="70.7" y="40.300000000000004" class="t tw" style="font-size:9px">The proposed model</text>
<circle cx="58" cy="48.8" r="1.9" fill="#000"/>
<text x="70.7" y="51.9" class="t tw" style="font-size:9px">Experiments of Eriten et al.</text>
</svg></body></html>
